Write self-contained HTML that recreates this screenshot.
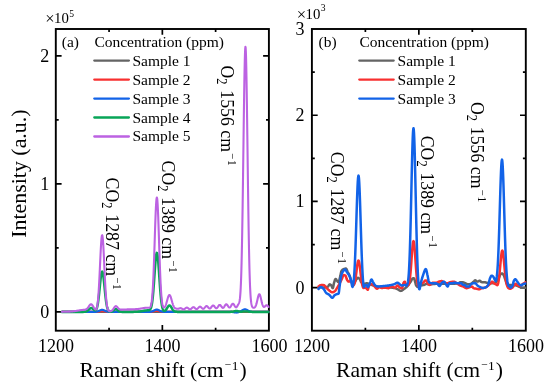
<!DOCTYPE html>
<html lang="en"><head><meta charset="utf-8"><title>Raman spectra</title>
<style>html,body{margin:0;padding:0;background:#fff}body{width:550px;height:387px;overflow:hidden}svg{display:block}</style>
</head><body>
<svg width="550" height="387" viewBox="0 0 550 387" font-family="'Liberation Serif',serif" fill="#000">
<rect width="550" height="387" fill="#fff"/>
<defs><clipPath id="ca"><rect x="55.8" y="29.0" width="213.70" height="301.7"/></clipPath><clipPath id="cb"><rect x="311.9" y="29.0" width="214.50" height="301.7"/></clipPath></defs>
<rect x="55.80" y="29.00" width="213.10" height="301.70" fill="none" stroke="#000" stroke-width="1.9"/>
<rect x="311.90" y="29.00" width="213.90" height="301.70" fill="none" stroke="#000" stroke-width="1.9"/>
<path d="M109.07,330.70v-2.9M109.07,29.00v2.9M162.35,330.70v-5.8M162.35,29.00v5.8M215.62,330.70v-2.9M215.62,29.00v2.9M55.80,311.90h5.8M268.90,311.90h-5.8M55.80,183.90h5.8M268.90,183.90h-5.8M55.80,55.90h5.8M268.90,55.90h-5.8M55.80,247.90h2.9M268.90,247.90h-2.9M55.80,119.90h2.9M268.90,119.90h-2.9" stroke="#000" stroke-width="1.7" fill="none"/>
<path d="M365.38,330.70v-2.9M365.38,29.00v2.9M418.85,330.70v-5.8M418.85,29.00v5.8M472.32,330.70v-2.9M472.32,29.00v2.9M311.90,287.65h5.8M525.80,287.65h-5.8M311.90,201.45h5.8M525.80,201.45h-5.8M311.90,115.25h5.8M525.80,115.25h-5.8M311.90,244.55h2.9M525.80,244.55h-2.9M311.90,158.35h2.9M525.80,158.35h-2.9M311.90,72.15h2.9M525.80,72.15h-2.9" stroke="#000" stroke-width="1.7" fill="none"/>
<g clip-path="url(#ca)" fill="none" stroke-linejoin="round" stroke-linecap="round">
<path d="M61.93,311.90 L62.14,311.90 L62.35,311.90 L62.57,311.90 L62.78,311.90 L62.99,311.90 L63.21,311.90 L63.42,311.90 L63.63,311.90 L63.84,311.90 L64.06,311.90 L64.27,311.90 L64.48,311.90 L64.70,311.90 L64.91,311.90 L65.12,311.90 L65.34,311.90 L65.55,311.90 L65.76,311.90 L65.98,311.90 L66.19,311.90 L66.40,311.90 L66.61,311.90 L66.83,311.90 L67.04,311.90 L67.25,311.90 L67.47,311.90 L67.68,311.90 L67.89,311.90 L68.11,311.90 L68.32,311.90 L68.53,311.90 L68.75,311.90 L68.96,311.90 L69.17,311.90 L69.39,311.90 L69.60,311.90 L69.81,311.90 L70.02,311.90 L70.24,311.90 L70.45,311.90 L70.66,311.90 L70.88,311.90 L71.09,311.90 L71.30,311.90 L71.52,311.90 L71.73,311.90 L71.94,311.90 L72.16,311.90 L72.37,311.90 L72.58,311.90 L72.79,311.90 L73.01,311.90 L73.22,311.90 L73.43,311.90 L73.65,311.90 L73.86,311.90 L74.07,311.90 L74.29,311.90 L74.50,311.90 L74.71,311.90 L74.93,311.90 L75.14,311.90 L75.35,311.90 L75.57,311.90 L75.78,311.90 L75.99,311.90 L76.20,311.90 L76.42,311.90 L76.63,311.90 L76.84,311.90 L77.06,311.90 L77.27,311.90 L77.48,311.90 L77.70,311.90 L77.91,311.90 L78.12,311.90 L78.34,311.90 L78.55,311.90 L78.76,311.90 L78.97,311.90 L79.19,311.90 L79.40,311.90 L79.61,311.90 L79.83,311.90 L80.04,311.90 L80.25,311.90 L80.47,311.90 L80.68,311.90 L80.89,311.90 L81.11,311.90 L81.32,311.90 L81.53,311.90 L81.74,311.90 L81.96,311.90 L82.17,311.90 L82.38,311.90 L82.60,311.90 L82.81,311.90 L83.02,311.90 L83.24,311.90 L83.45,311.90 L83.66,311.90 L83.88,311.90 L84.09,311.90 L84.30,311.90 L84.52,311.90 L84.73,311.90 L84.94,311.90 L85.15,311.90 L85.37,311.90 L85.58,311.90 L85.79,311.90 L86.01,311.90 L86.22,311.90 L86.43,311.90 L86.65,311.90 L86.86,311.90 L87.07,311.90 L87.29,311.90 L87.50,311.90 L87.71,311.90 L87.92,311.90 L88.14,311.90 L88.35,311.90 L88.56,311.90 L88.78,311.90 L88.99,311.90 L89.20,311.90 L89.42,311.90 L89.63,311.90 L89.84,311.90 L90.06,311.90 L90.27,311.90 L90.48,311.90 L90.70,311.90 L90.91,311.90 L91.12,311.90 L91.33,311.90 L91.55,311.90 L91.76,311.90 L91.97,311.90 L92.19,311.90 L92.40,311.90 L92.61,311.90 L92.83,311.90 L93.04,311.90 L93.25,311.90 L93.47,311.90 L93.68,311.90 L93.89,311.90 L94.10,311.90 L94.32,311.90 L94.53,311.90 L94.74,311.90 L94.96,311.90 L95.17,311.90 L95.38,311.90 L95.60,311.90 L95.81,311.90 L96.02,311.90 L96.24,311.90 L96.45,311.90 L96.66,311.90 L96.88,311.90 L97.09,311.90 L97.30,311.90 L97.51,311.90 L97.73,311.90 L97.94,311.90 L98.15,311.90 L98.37,311.90 L98.58,311.90 L98.79,311.90 L99.01,311.90 L99.22,311.90 L99.43,311.90 L99.65,311.90 L99.86,311.90 L100.07,311.90 L100.28,311.90 L100.50,311.90 L100.71,311.90 L100.92,311.90 L101.14,311.90 L101.35,311.90 L101.56,311.90 L101.78,311.90 L101.99,311.90 L102.20,311.90 L102.42,311.90 L102.63,311.90 L102.84,311.90 L103.05,311.90 L103.27,311.90 L103.48,311.90 L103.69,311.90 L103.91,311.90 L104.12,311.90 L104.33,311.90 L104.55,311.90 L104.76,311.90 L104.97,311.90 L105.19,311.90 L105.40,311.90 L105.61,311.90 L105.83,311.90 L106.04,311.90 L106.25,311.90 L106.46,311.90 L106.68,311.90 L106.89,311.90 L107.10,311.90 L107.32,311.90 L107.53,311.90 L107.74,311.90 L107.96,311.90 L108.17,311.90 L108.38,311.90 L108.60,311.90 L108.81,311.90 L109.02,311.90 L109.23,311.90 L109.45,311.90 L109.66,311.90 L109.87,311.90 L110.09,311.90 L110.30,311.90 L110.51,311.90 L110.73,311.90 L110.94,311.90 L111.15,311.90 L111.37,311.90 L111.58,311.90 L111.79,311.90 L112.01,311.90 L112.22,311.90 L112.43,311.90 L112.64,311.90 L112.86,311.90 L113.07,311.90 L113.28,311.90 L113.50,311.90 L113.71,311.90 L113.92,311.90 L114.14,311.90 L114.35,311.90 L114.56,311.90 L114.78,311.90 L114.99,311.90 L115.20,311.90 L115.41,311.90 L115.63,311.90 L115.84,311.90 L116.05,311.90 L116.27,311.90 L116.48,311.90 L116.69,311.90 L116.91,311.90 L117.12,311.90 L117.33,311.90 L117.55,311.90 L117.76,311.90 L117.97,311.90 L118.19,311.90 L118.40,311.90 L118.61,311.90 L118.82,311.90 L119.04,311.90 L119.25,311.90 L119.46,311.90 L119.68,311.90 L119.89,311.90 L120.10,311.90 L120.32,311.90 L120.53,311.90 L120.74,311.90 L120.96,311.90 L121.17,311.90 L121.38,311.90 L121.59,311.90 L121.81,311.90 L122.02,311.90 L122.23,311.90 L122.45,311.90 L122.66,311.90 L122.87,311.90 L123.09,311.90 L123.30,311.90 L123.51,311.90 L123.73,311.90 L123.94,311.90 L124.15,311.90 L124.36,311.90 L124.58,311.90 L124.79,311.90 L125.00,311.90 L125.22,311.90 L125.43,311.90 L125.64,311.90 L125.86,311.90 L126.07,311.90 L126.28,311.90 L126.50,311.90 L126.71,311.90 L126.92,311.90 L127.14,311.90 L127.35,311.90 L127.56,311.90 L127.77,311.90 L127.99,311.90 L128.20,311.90 L128.41,311.90 L128.63,311.90 L128.84,311.90 L129.05,311.90 L129.27,311.90 L129.48,311.90 L129.69,311.90 L129.91,311.90 L130.12,311.90 L130.33,311.90 L130.54,311.90 L130.76,311.90 L130.97,311.90 L131.18,311.90 L131.40,311.90 L131.61,311.90 L131.82,311.90 L132.04,311.90 L132.25,311.90 L132.46,311.90 L132.68,311.90 L132.89,311.90 L133.10,311.90 L133.32,311.90 L133.53,311.90 L133.74,311.90 L133.95,311.90 L134.17,311.90 L134.38,311.90 L134.59,311.90 L134.81,311.90 L135.02,311.90 L135.23,311.90 L135.45,311.90 L135.66,311.90 L135.87,311.90 L136.09,311.90 L136.30,311.90 L136.51,311.90 L136.72,311.90 L136.94,311.90 L137.15,311.90 L137.36,311.90 L137.58,311.90 L137.79,311.90 L138.00,311.90 L138.22,311.90 L138.43,311.90 L138.64,311.90 L138.86,311.90 L139.07,311.90 L139.28,311.90 L139.50,311.90 L139.71,311.90 L139.92,311.90 L140.13,311.90 L140.35,311.90 L140.56,311.90 L140.77,311.90 L140.99,311.90 L141.20,311.90 L141.41,311.90 L141.63,311.90 L141.84,311.90 L142.05,311.90 L142.27,311.90 L142.48,311.90 L142.69,311.90 L142.90,311.90 L143.12,311.90 L143.33,311.90 L143.54,311.90 L143.76,311.90 L143.97,311.90 L144.18,311.90 L144.40,311.90 L144.61,311.90 L144.82,311.90 L145.04,311.90 L145.25,311.90 L145.46,311.90 L145.67,311.90 L145.89,311.90 L146.10,311.90 L146.31,311.90 L146.53,311.90 L146.74,311.90 L146.95,311.90 L147.17,311.90 L147.38,311.90 L147.59,311.90 L147.81,311.90 L148.02,311.90 L148.23,311.90 L148.45,311.90 L148.66,311.90 L148.87,311.90 L149.08,311.90 L149.30,311.90 L149.51,311.90 L149.72,311.90 L149.94,311.90 L150.15,311.90 L150.36,311.90 L150.58,311.90 L150.79,311.90 L151.00,311.90 L151.22,311.90 L151.43,311.90 L151.64,311.90 L151.85,311.90 L152.07,311.90 L152.28,311.90 L152.49,311.90 L152.71,311.90 L152.92,311.90 L153.13,311.90 L153.35,311.90 L153.56,311.90 L153.77,311.90 L153.99,311.90 L154.20,311.90 L154.41,311.90 L154.63,311.90 L154.84,311.90 L155.05,311.90 L155.26,311.90 L155.48,311.90 L155.69,311.90 L155.90,311.90 L156.12,311.90 L156.33,311.90 L156.54,311.90 L156.76,311.90 L156.97,311.90 L157.18,311.90 L157.40,311.90 L157.61,311.90 L157.82,311.90 L158.03,311.90 L158.25,311.90 L158.46,311.90 L158.67,311.90 L158.89,311.90 L159.10,311.90 L159.31,311.90 L159.53,311.90 L159.74,311.90 L159.95,311.90 L160.17,311.90 L160.38,311.90 L160.59,311.90 L160.81,311.90 L161.02,311.90 L161.23,311.90 L161.44,311.90 L161.66,311.90 L161.87,311.90 L162.08,311.90 L162.30,311.90 L162.51,311.90 L162.72,311.90 L162.94,311.90 L163.15,311.90 L163.36,311.90 L163.58,311.90 L163.79,311.90 L164.00,311.90 L164.21,311.90 L164.43,311.90 L164.64,311.90 L164.85,311.90 L165.07,311.90 L165.28,311.90 L165.49,311.90 L165.71,311.90 L165.92,311.90 L166.13,311.90 L166.35,311.90 L166.56,311.90 L166.77,311.90 L166.98,311.90 L167.20,311.90 L167.41,311.90 L167.62,311.90 L167.84,311.90 L168.05,311.90 L168.26,311.90 L168.48,311.90 L168.69,311.90 L168.90,311.90 L169.12,311.90 L169.33,311.90 L169.54,311.90 L169.76,311.90 L169.97,311.90 L170.18,311.90 L170.39,311.90 L170.61,311.90 L170.82,311.90 L171.03,311.90 L171.25,311.90 L171.46,311.90 L171.67,311.90 L171.89,311.90 L172.10,311.90 L172.31,311.90 L172.53,311.90 L172.74,311.90 L172.95,311.90 L173.16,311.90 L173.38,311.90 L173.59,311.90 L173.80,311.90 L174.02,311.90 L174.23,311.90 L174.44,311.90 L174.66,311.90 L174.87,311.90 L175.08,311.90 L175.30,311.90 L175.51,311.90 L175.72,311.90 L175.94,311.90 L176.15,311.90 L176.36,311.90 L176.57,311.90 L176.79,311.90 L177.00,311.90 L177.21,311.90 L177.43,311.90 L177.64,311.90 L177.85,311.90 L178.07,311.90 L178.28,311.90 L178.49,311.90 L178.71,311.90 L178.92,311.90 L179.13,311.90 L179.34,311.90 L179.56,311.90 L179.77,311.90 L179.98,311.90 L180.20,311.90 L180.41,311.90 L180.62,311.90 L180.84,311.90 L181.05,311.90 L181.26,311.90 L181.48,311.90 L181.69,311.90 L181.90,311.90 L182.12,311.90 L182.33,311.90 L182.54,311.90 L182.75,311.90 L182.97,311.90 L183.18,311.90 L183.39,311.90 L183.61,311.90 L183.82,311.90 L184.03,311.90 L184.25,311.90 L184.46,311.90 L184.67,311.90 L184.89,311.90 L185.10,311.90 L185.31,311.90 L185.52,311.90 L185.74,311.90 L185.95,311.90 L186.16,311.90 L186.38,311.90 L186.59,311.90 L186.80,311.90 L187.02,311.90 L187.23,311.90 L187.44,311.90 L187.66,311.90 L187.87,311.90 L188.08,311.90 L188.29,311.90 L188.51,311.90 L188.72,311.90 L188.93,311.90 L189.15,311.90 L189.36,311.90 L189.57,311.90 L189.79,311.90 L190.00,311.90 L190.21,311.90 L190.43,311.90 L190.64,311.90 L190.85,311.90 L191.07,311.90 L191.28,311.90 L191.49,311.90 L191.70,311.90 L191.92,311.90 L192.13,311.90 L192.34,311.90 L192.56,311.90 L192.77,311.90 L192.98,311.90 L193.20,311.90 L193.41,311.90 L193.62,311.90 L193.84,311.90 L194.05,311.90 L194.26,311.90 L194.47,311.90 L194.69,311.90 L194.90,311.90 L195.11,311.90 L195.33,311.90 L195.54,311.90 L195.75,311.90 L195.97,311.90 L196.18,311.90 L196.39,311.90 L196.61,311.90 L196.82,311.90 L197.03,311.90 L197.25,311.90 L197.46,311.90 L197.67,311.90 L197.88,311.90 L198.10,311.90 L198.31,311.90 L198.52,311.90 L198.74,311.90 L198.95,311.90 L199.16,311.90 L199.38,311.90 L199.59,311.90 L199.80,311.90 L200.02,311.90 L200.23,311.90 L200.44,311.90 L200.65,311.90 L200.87,311.90 L201.08,311.90 L201.29,311.90 L201.51,311.90 L201.72,311.90 L201.93,311.90 L202.15,311.90 L202.36,311.90 L202.57,311.90 L202.79,311.90 L203.00,311.90 L203.21,311.90 L203.43,311.90 L203.64,311.90 L203.85,311.90 L204.06,311.90 L204.28,311.90 L204.49,311.90 L204.70,311.90 L204.92,311.90 L205.13,311.90 L205.34,311.90 L205.56,311.90 L205.77,311.90 L205.98,311.90 L206.20,311.90 L206.41,311.90 L206.62,311.90 L206.83,311.90 L207.05,311.90 L207.26,311.90 L207.47,311.90 L207.69,311.90 L207.90,311.90 L208.11,311.90 L208.33,311.90 L208.54,311.90 L208.75,311.90 L208.97,311.90 L209.18,311.90 L209.39,311.90 L209.60,311.90 L209.82,311.90 L210.03,311.90 L210.24,311.90 L210.46,311.90 L210.67,311.90 L210.88,311.90 L211.10,311.90 L211.31,311.90 L211.52,311.90 L211.74,311.90 L211.95,311.90 L212.16,311.90 L212.38,311.90 L212.59,311.90 L212.80,311.90 L213.01,311.90 L213.23,311.90 L213.44,311.90 L213.65,311.90 L213.87,311.90 L214.08,311.90 L214.29,311.90 L214.51,311.90 L214.72,311.90 L214.93,311.90 L215.15,311.90 L215.36,311.90 L215.57,311.90 L215.78,311.90 L216.00,311.90 L216.21,311.90 L216.42,311.90 L216.64,311.90 L216.85,311.90 L217.06,311.90 L217.28,311.90 L217.49,311.90 L217.70,311.90 L217.92,311.90 L218.13,311.90 L218.34,311.90 L218.56,311.90 L218.77,311.90 L218.98,311.90 L219.19,311.90 L219.41,311.90 L219.62,311.90 L219.83,311.90 L220.05,311.90 L220.26,311.90 L220.47,311.90 L220.69,311.90 L220.90,311.90 L221.11,311.90 L221.33,311.90 L221.54,311.90 L221.75,311.90 L221.96,311.90 L222.18,311.90 L222.39,311.90 L222.60,311.90 L222.82,311.90 L223.03,311.90 L223.24,311.90 L223.46,311.90 L223.67,311.90 L223.88,311.90 L224.10,311.90 L224.31,311.90 L224.52,311.90 L224.74,311.90 L224.95,311.90 L225.16,311.90 L225.37,311.90 L225.59,311.90 L225.80,311.90 L226.01,311.90 L226.23,311.90 L226.44,311.90 L226.65,311.90 L226.87,311.90 L227.08,311.90 L227.29,311.90 L227.51,311.90 L227.72,311.90 L227.93,311.90 L228.14,311.90 L228.36,311.90 L228.57,311.90 L228.78,311.90 L229.00,311.90 L229.21,311.90 L229.42,311.90 L229.64,311.90 L229.85,311.90 L230.06,311.90 L230.28,311.90 L230.49,311.90 L230.70,311.90 L230.91,311.90 L231.13,311.90 L231.34,311.90 L231.55,311.90 L231.77,311.90 L231.98,311.90 L232.19,311.90 L232.41,311.90 L232.62,311.90 L232.83,311.90 L233.05,311.90 L233.26,311.90 L233.47,311.90 L233.69,311.90 L233.90,311.90 L234.11,311.90 L234.32,311.90 L234.54,311.90 L234.75,311.90 L234.96,311.90 L235.18,311.90 L235.39,311.90 L235.60,311.90 L235.82,311.90 L236.03,311.90 L236.24,311.90 L236.46,311.90 L236.67,311.90 L236.88,311.90 L237.09,311.90 L237.31,311.90 L237.52,311.90 L237.73,311.90 L237.95,311.90 L238.16,311.90 L238.37,311.90 L238.59,311.90 L238.80,311.90 L239.01,311.90 L239.23,311.90 L239.44,311.90 L239.65,311.90 L239.87,311.90 L240.08,311.90 L240.29,311.90 L240.50,311.90 L240.72,311.90 L240.93,311.90 L241.14,311.90 L241.36,311.90 L241.57,311.90 L241.78,311.90 L242.00,311.90 L242.21,311.90 L242.42,311.90 L242.64,311.90 L242.85,311.90 L243.06,311.90 L243.27,311.90 L243.49,311.90 L243.70,311.90 L243.91,311.90 L244.13,311.90 L244.34,311.90 L244.55,311.90 L244.77,311.90 L244.98,311.90 L245.19,311.90 L245.41,311.90 L245.62,311.90 L245.83,311.90 L246.05,311.90 L246.26,311.90 L246.47,311.90 L246.68,311.90 L246.90,311.90 L247.11,311.90 L247.32,311.90 L247.54,311.90 L247.75,311.90 L247.96,311.90 L248.18,311.90 L248.39,311.90 L248.60,311.90 L248.82,311.90 L249.03,311.90 L249.24,311.90 L249.45,311.90 L249.67,311.90 L249.88,311.90 L250.09,311.90 L250.31,311.90 L250.52,311.90 L250.73,311.90 L250.95,311.90 L251.16,311.90 L251.37,311.90 L251.59,311.90 L251.80,311.90 L252.01,311.90 L252.22,311.90 L252.44,311.90 L252.65,311.90 L252.86,311.90 L253.08,311.90 L253.29,311.90 L253.50,311.90 L253.72,311.90 L253.93,311.90 L254.14,311.90 L254.36,311.90 L254.57,311.90 L254.78,311.90 L255.00,311.90 L255.21,311.90 L255.42,311.90 L255.63,311.90 L255.85,311.90 L256.06,311.90 L256.27,311.90 L256.49,311.90 L256.70,311.90 L256.91,311.90 L257.13,311.90 L257.34,311.90 L257.55,311.90 L257.77,311.90 L257.98,311.90 L258.19,311.90 L258.40,311.90 L258.62,311.90 L258.83,311.90 L259.04,311.90 L259.26,311.90 L259.47,311.90 L259.68,311.90 L259.90,311.90 L260.11,311.90 L260.32,311.90 L260.54,311.90 L260.75,311.90 L260.96,311.90 L261.18,311.90 L261.39,311.90 L261.60,311.90 L261.81,311.90 L262.03,311.90 L262.24,311.90 L262.45,311.90 L262.67,311.90 L262.88,311.90 L263.09,311.90 L263.31,311.90 L263.52,311.90 L263.73,311.90 L263.95,311.90 L264.16,311.90 L264.37,311.90 L264.58,311.90 L264.80,311.90 L265.01,311.90 L265.22,311.90 L265.44,311.90 L265.65,311.90 L265.86,311.90 L266.08,311.90 L266.29,311.90 L266.50,311.90 L266.72,311.90 L266.93,311.90 L267.14,311.90 L267.36,311.90 L267.57,311.90 L267.78,311.90 L267.99,311.90 L268.21,311.90 L268.42,311.90 L268.63,311.90 L268.85,311.90" stroke="#646464" stroke-width="2.2"/>
<path d="M61.93,311.90 L62.14,311.90 L62.35,311.90 L62.57,311.90 L62.78,311.90 L62.99,311.90 L63.21,311.90 L63.42,311.90 L63.63,311.90 L63.84,311.90 L64.06,311.90 L64.27,311.90 L64.48,311.90 L64.70,311.90 L64.91,311.90 L65.12,311.90 L65.34,311.90 L65.55,311.90 L65.76,311.90 L65.98,311.90 L66.19,311.90 L66.40,311.90 L66.61,311.90 L66.83,311.90 L67.04,311.90 L67.25,311.90 L67.47,311.90 L67.68,311.90 L67.89,311.90 L68.11,311.90 L68.32,311.90 L68.53,311.90 L68.75,311.90 L68.96,311.90 L69.17,311.90 L69.39,311.90 L69.60,311.90 L69.81,311.90 L70.02,311.90 L70.24,311.90 L70.45,311.90 L70.66,311.90 L70.88,311.90 L71.09,311.90 L71.30,311.90 L71.52,311.90 L71.73,311.90 L71.94,311.90 L72.16,311.90 L72.37,311.90 L72.58,311.90 L72.79,311.90 L73.01,311.90 L73.22,311.90 L73.43,311.90 L73.65,311.90 L73.86,311.90 L74.07,311.90 L74.29,311.90 L74.50,311.90 L74.71,311.90 L74.93,311.90 L75.14,311.90 L75.35,311.90 L75.57,311.90 L75.78,311.90 L75.99,311.90 L76.20,311.90 L76.42,311.90 L76.63,311.90 L76.84,311.90 L77.06,311.90 L77.27,311.90 L77.48,311.90 L77.70,311.90 L77.91,311.90 L78.12,311.90 L78.34,311.90 L78.55,311.90 L78.76,311.90 L78.97,311.90 L79.19,311.90 L79.40,311.90 L79.61,311.90 L79.83,311.90 L80.04,311.90 L80.25,311.90 L80.47,311.90 L80.68,311.90 L80.89,311.90 L81.11,311.90 L81.32,311.90 L81.53,311.90 L81.74,311.90 L81.96,311.90 L82.17,311.90 L82.38,311.90 L82.60,311.90 L82.81,311.90 L83.02,311.90 L83.24,311.90 L83.45,311.90 L83.66,311.90 L83.88,311.90 L84.09,311.90 L84.30,311.90 L84.52,311.90 L84.73,311.90 L84.94,311.90 L85.15,311.90 L85.37,311.90 L85.58,311.90 L85.79,311.90 L86.01,311.90 L86.22,311.90 L86.43,311.90 L86.65,311.90 L86.86,311.90 L87.07,311.90 L87.29,311.90 L87.50,311.90 L87.71,311.90 L87.92,311.90 L88.14,311.90 L88.35,311.90 L88.56,311.90 L88.78,311.90 L88.99,311.90 L89.20,311.90 L89.42,311.90 L89.63,311.90 L89.84,311.90 L90.06,311.90 L90.27,311.90 L90.48,311.90 L90.70,311.90 L90.91,311.90 L91.12,311.90 L91.33,311.90 L91.55,311.90 L91.76,311.90 L91.97,311.90 L92.19,311.90 L92.40,311.90 L92.61,311.90 L92.83,311.90 L93.04,311.90 L93.25,311.90 L93.47,311.90 L93.68,311.90 L93.89,311.89 L94.10,311.89 L94.32,311.89 L94.53,311.89 L94.74,311.88 L94.96,311.88 L95.17,311.88 L95.38,311.87 L95.60,311.86 L95.81,311.85 L96.02,311.85 L96.24,311.83 L96.45,311.82 L96.66,311.81 L96.88,311.79 L97.09,311.77 L97.30,311.75 L97.51,311.73 L97.73,311.71 L97.94,311.68 L98.15,311.65 L98.37,311.62 L98.58,311.59 L98.79,311.55 L99.01,311.52 L99.22,311.48 L99.43,311.44 L99.65,311.41 L99.86,311.37 L100.07,311.33 L100.28,311.30 L100.50,311.27 L100.71,311.24 L100.92,311.21 L101.14,311.19 L101.35,311.17 L101.56,311.15 L101.78,311.14 L101.99,311.13 L102.20,311.13 L102.42,311.14 L102.63,311.14 L102.84,311.16 L103.05,311.18 L103.27,311.20 L103.48,311.22 L103.69,311.25 L103.91,311.28 L104.12,311.32 L104.33,311.35 L104.55,311.39 L104.76,311.42 L104.97,311.46 L105.19,311.50 L105.40,311.54 L105.61,311.57 L105.83,311.60 L106.04,311.64 L106.25,311.67 L106.46,311.69 L106.68,311.72 L106.89,311.74 L107.10,311.76 L107.32,311.78 L107.53,311.80 L107.74,311.82 L107.96,311.83 L108.17,311.84 L108.38,311.85 L108.60,311.86 L108.81,311.87 L109.02,311.87 L109.23,311.88 L109.45,311.88 L109.66,311.89 L109.87,311.89 L110.09,311.89 L110.30,311.89 L110.51,311.89 L110.73,311.90 L110.94,311.90 L111.15,311.90 L111.37,311.90 L111.58,311.90 L111.79,311.90 L112.01,311.90 L112.22,311.90 L112.43,311.90 L112.64,311.90 L112.86,311.90 L113.07,311.90 L113.28,311.90 L113.50,311.90 L113.71,311.90 L113.92,311.90 L114.14,311.90 L114.35,311.90 L114.56,311.90 L114.78,311.90 L114.99,311.90 L115.20,311.90 L115.41,311.90 L115.63,311.90 L115.84,311.90 L116.05,311.90 L116.27,311.90 L116.48,311.90 L116.69,311.90 L116.91,311.90 L117.12,311.90 L117.33,311.90 L117.55,311.90 L117.76,311.90 L117.97,311.90 L118.19,311.90 L118.40,311.90 L118.61,311.90 L118.82,311.90 L119.04,311.90 L119.25,311.90 L119.46,311.90 L119.68,311.90 L119.89,311.90 L120.10,311.90 L120.32,311.90 L120.53,311.90 L120.74,311.90 L120.96,311.90 L121.17,311.90 L121.38,311.90 L121.59,311.90 L121.81,311.90 L122.02,311.90 L122.23,311.90 L122.45,311.90 L122.66,311.90 L122.87,311.90 L123.09,311.90 L123.30,311.90 L123.51,311.90 L123.73,311.90 L123.94,311.90 L124.15,311.90 L124.36,311.90 L124.58,311.90 L124.79,311.90 L125.00,311.90 L125.22,311.90 L125.43,311.90 L125.64,311.90 L125.86,311.90 L126.07,311.90 L126.28,311.90 L126.50,311.90 L126.71,311.90 L126.92,311.90 L127.14,311.90 L127.35,311.90 L127.56,311.90 L127.77,311.90 L127.99,311.90 L128.20,311.90 L128.41,311.90 L128.63,311.90 L128.84,311.90 L129.05,311.90 L129.27,311.90 L129.48,311.90 L129.69,311.90 L129.91,311.90 L130.12,311.90 L130.33,311.90 L130.54,311.90 L130.76,311.90 L130.97,311.90 L131.18,311.90 L131.40,311.90 L131.61,311.90 L131.82,311.90 L132.04,311.90 L132.25,311.90 L132.46,311.90 L132.68,311.90 L132.89,311.90 L133.10,311.90 L133.32,311.90 L133.53,311.90 L133.74,311.90 L133.95,311.90 L134.17,311.90 L134.38,311.90 L134.59,311.90 L134.81,311.90 L135.02,311.90 L135.23,311.90 L135.45,311.90 L135.66,311.90 L135.87,311.90 L136.09,311.90 L136.30,311.90 L136.51,311.90 L136.72,311.90 L136.94,311.90 L137.15,311.90 L137.36,311.90 L137.58,311.90 L137.79,311.90 L138.00,311.90 L138.22,311.90 L138.43,311.90 L138.64,311.90 L138.86,311.90 L139.07,311.90 L139.28,311.90 L139.50,311.90 L139.71,311.90 L139.92,311.90 L140.13,311.90 L140.35,311.90 L140.56,311.90 L140.77,311.90 L140.99,311.90 L141.20,311.90 L141.41,311.90 L141.63,311.90 L141.84,311.90 L142.05,311.90 L142.27,311.90 L142.48,311.90 L142.69,311.90 L142.90,311.90 L143.12,311.90 L143.33,311.90 L143.54,311.90 L143.76,311.90 L143.97,311.90 L144.18,311.90 L144.40,311.90 L144.61,311.90 L144.82,311.90 L145.04,311.90 L145.25,311.90 L145.46,311.90 L145.67,311.90 L145.89,311.90 L146.10,311.90 L146.31,311.90 L146.53,311.90 L146.74,311.90 L146.95,311.90 L147.17,311.90 L147.38,311.90 L147.59,311.90 L147.81,311.90 L148.02,311.90 L148.23,311.89 L148.45,311.89 L148.66,311.89 L148.87,311.89 L149.08,311.88 L149.30,311.88 L149.51,311.87 L149.72,311.87 L149.94,311.86 L150.15,311.85 L150.36,311.84 L150.58,311.83 L150.79,311.82 L151.00,311.80 L151.22,311.78 L151.43,311.76 L151.64,311.74 L151.85,311.71 L152.07,311.68 L152.28,311.65 L152.49,311.62 L152.71,311.58 L152.92,311.54 L153.13,311.49 L153.35,311.45 L153.56,311.40 L153.77,311.35 L153.99,311.30 L154.20,311.25 L154.41,311.20 L154.63,311.16 L154.84,311.11 L155.05,311.07 L155.26,311.02 L155.48,310.99 L155.69,310.95 L155.90,310.93 L156.12,310.91 L156.33,310.89 L156.54,310.88 L156.76,310.88 L156.97,310.88 L157.18,310.89 L157.40,310.91 L157.61,310.93 L157.82,310.95 L158.03,310.99 L158.25,311.02 L158.46,311.07 L158.67,311.11 L158.89,311.16 L159.10,311.20 L159.31,311.25 L159.53,311.30 L159.74,311.35 L159.95,311.40 L160.17,311.45 L160.38,311.49 L160.59,311.54 L160.81,311.58 L161.02,311.62 L161.23,311.65 L161.44,311.68 L161.66,311.71 L161.87,311.74 L162.08,311.76 L162.30,311.78 L162.51,311.80 L162.72,311.82 L162.94,311.83 L163.15,311.84 L163.36,311.85 L163.58,311.86 L163.79,311.87 L164.00,311.87 L164.21,311.88 L164.43,311.88 L164.64,311.89 L164.85,311.89 L165.07,311.89 L165.28,311.89 L165.49,311.90 L165.71,311.90 L165.92,311.90 L166.13,311.90 L166.35,311.90 L166.56,311.90 L166.77,311.90 L166.98,311.90 L167.20,311.90 L167.41,311.90 L167.62,311.90 L167.84,311.90 L168.05,311.90 L168.26,311.90 L168.48,311.90 L168.69,311.90 L168.90,311.90 L169.12,311.90 L169.33,311.90 L169.54,311.90 L169.76,311.90 L169.97,311.90 L170.18,311.90 L170.39,311.90 L170.61,311.90 L170.82,311.90 L171.03,311.90 L171.25,311.90 L171.46,311.90 L171.67,311.90 L171.89,311.90 L172.10,311.90 L172.31,311.90 L172.53,311.90 L172.74,311.90 L172.95,311.90 L173.16,311.90 L173.38,311.90 L173.59,311.90 L173.80,311.90 L174.02,311.90 L174.23,311.90 L174.44,311.90 L174.66,311.90 L174.87,311.90 L175.08,311.90 L175.30,311.90 L175.51,311.90 L175.72,311.90 L175.94,311.90 L176.15,311.90 L176.36,311.90 L176.57,311.90 L176.79,311.90 L177.00,311.90 L177.21,311.90 L177.43,311.90 L177.64,311.90 L177.85,311.90 L178.07,311.90 L178.28,311.90 L178.49,311.90 L178.71,311.90 L178.92,311.90 L179.13,311.90 L179.34,311.90 L179.56,311.90 L179.77,311.90 L179.98,311.90 L180.20,311.90 L180.41,311.90 L180.62,311.90 L180.84,311.90 L181.05,311.90 L181.26,311.90 L181.48,311.90 L181.69,311.90 L181.90,311.90 L182.12,311.90 L182.33,311.90 L182.54,311.90 L182.75,311.90 L182.97,311.90 L183.18,311.90 L183.39,311.90 L183.61,311.90 L183.82,311.90 L184.03,311.90 L184.25,311.90 L184.46,311.90 L184.67,311.90 L184.89,311.90 L185.10,311.90 L185.31,311.90 L185.52,311.90 L185.74,311.90 L185.95,311.90 L186.16,311.90 L186.38,311.90 L186.59,311.90 L186.80,311.90 L187.02,311.90 L187.23,311.90 L187.44,311.90 L187.66,311.90 L187.87,311.90 L188.08,311.90 L188.29,311.90 L188.51,311.90 L188.72,311.90 L188.93,311.90 L189.15,311.90 L189.36,311.90 L189.57,311.90 L189.79,311.90 L190.00,311.90 L190.21,311.90 L190.43,311.90 L190.64,311.90 L190.85,311.90 L191.07,311.90 L191.28,311.90 L191.49,311.90 L191.70,311.90 L191.92,311.90 L192.13,311.90 L192.34,311.90 L192.56,311.90 L192.77,311.90 L192.98,311.90 L193.20,311.90 L193.41,311.90 L193.62,311.90 L193.84,311.90 L194.05,311.90 L194.26,311.90 L194.47,311.90 L194.69,311.90 L194.90,311.90 L195.11,311.90 L195.33,311.90 L195.54,311.90 L195.75,311.90 L195.97,311.90 L196.18,311.90 L196.39,311.90 L196.61,311.90 L196.82,311.90 L197.03,311.90 L197.25,311.90 L197.46,311.90 L197.67,311.90 L197.88,311.90 L198.10,311.90 L198.31,311.90 L198.52,311.90 L198.74,311.90 L198.95,311.90 L199.16,311.90 L199.38,311.90 L199.59,311.90 L199.80,311.90 L200.02,311.90 L200.23,311.90 L200.44,311.90 L200.65,311.90 L200.87,311.90 L201.08,311.90 L201.29,311.90 L201.51,311.90 L201.72,311.90 L201.93,311.90 L202.15,311.90 L202.36,311.90 L202.57,311.90 L202.79,311.90 L203.00,311.90 L203.21,311.90 L203.43,311.90 L203.64,311.90 L203.85,311.90 L204.06,311.90 L204.28,311.90 L204.49,311.90 L204.70,311.90 L204.92,311.90 L205.13,311.90 L205.34,311.90 L205.56,311.90 L205.77,311.90 L205.98,311.90 L206.20,311.90 L206.41,311.90 L206.62,311.90 L206.83,311.90 L207.05,311.90 L207.26,311.90 L207.47,311.90 L207.69,311.90 L207.90,311.90 L208.11,311.90 L208.33,311.90 L208.54,311.90 L208.75,311.90 L208.97,311.90 L209.18,311.90 L209.39,311.90 L209.60,311.90 L209.82,311.90 L210.03,311.90 L210.24,311.90 L210.46,311.90 L210.67,311.90 L210.88,311.90 L211.10,311.90 L211.31,311.90 L211.52,311.90 L211.74,311.90 L211.95,311.90 L212.16,311.90 L212.38,311.90 L212.59,311.90 L212.80,311.90 L213.01,311.90 L213.23,311.90 L213.44,311.90 L213.65,311.90 L213.87,311.90 L214.08,311.90 L214.29,311.90 L214.51,311.90 L214.72,311.90 L214.93,311.90 L215.15,311.90 L215.36,311.90 L215.57,311.90 L215.78,311.90 L216.00,311.90 L216.21,311.90 L216.42,311.90 L216.64,311.90 L216.85,311.90 L217.06,311.90 L217.28,311.90 L217.49,311.90 L217.70,311.90 L217.92,311.90 L218.13,311.90 L218.34,311.90 L218.56,311.90 L218.77,311.90 L218.98,311.90 L219.19,311.90 L219.41,311.90 L219.62,311.90 L219.83,311.90 L220.05,311.90 L220.26,311.90 L220.47,311.90 L220.69,311.90 L220.90,311.90 L221.11,311.90 L221.33,311.90 L221.54,311.90 L221.75,311.90 L221.96,311.90 L222.18,311.90 L222.39,311.90 L222.60,311.90 L222.82,311.90 L223.03,311.90 L223.24,311.90 L223.46,311.90 L223.67,311.90 L223.88,311.90 L224.10,311.90 L224.31,311.90 L224.52,311.90 L224.74,311.90 L224.95,311.90 L225.16,311.90 L225.37,311.90 L225.59,311.90 L225.80,311.90 L226.01,311.90 L226.23,311.90 L226.44,311.90 L226.65,311.90 L226.87,311.90 L227.08,311.90 L227.29,311.90 L227.51,311.90 L227.72,311.90 L227.93,311.90 L228.14,311.90 L228.36,311.90 L228.57,311.90 L228.78,311.90 L229.00,311.90 L229.21,311.90 L229.42,311.90 L229.64,311.90 L229.85,311.90 L230.06,311.90 L230.28,311.90 L230.49,311.90 L230.70,311.90 L230.91,311.90 L231.13,311.90 L231.34,311.90 L231.55,311.90 L231.77,311.90 L231.98,311.90 L232.19,311.90 L232.41,311.90 L232.62,311.90 L232.83,311.90 L233.05,311.90 L233.26,311.90 L233.47,311.90 L233.69,311.90 L233.90,311.90 L234.11,311.90 L234.32,311.90 L234.54,311.90 L234.75,311.90 L234.96,311.90 L235.18,311.90 L235.39,311.90 L235.60,311.90 L235.82,311.90 L236.03,311.90 L236.24,311.90 L236.46,311.90 L236.67,311.90 L236.88,311.90 L237.09,311.90 L237.31,311.90 L237.52,311.90 L237.73,311.90 L237.95,311.90 L238.16,311.90 L238.37,311.90 L238.59,311.90 L238.80,311.90 L239.01,311.90 L239.23,311.90 L239.44,311.90 L239.65,311.90 L239.87,311.90 L240.08,311.90 L240.29,311.90 L240.50,311.90 L240.72,311.90 L240.93,311.90 L241.14,311.90 L241.36,311.90 L241.57,311.90 L241.78,311.90 L242.00,311.90 L242.21,311.90 L242.42,311.90 L242.64,311.90 L242.85,311.90 L243.06,311.90 L243.27,311.90 L243.49,311.90 L243.70,311.90 L243.91,311.90 L244.13,311.90 L244.34,311.90 L244.55,311.90 L244.77,311.90 L244.98,311.90 L245.19,311.90 L245.41,311.90 L245.62,311.90 L245.83,311.90 L246.05,311.90 L246.26,311.90 L246.47,311.90 L246.68,311.90 L246.90,311.90 L247.11,311.90 L247.32,311.90 L247.54,311.90 L247.75,311.90 L247.96,311.90 L248.18,311.90 L248.39,311.90 L248.60,311.90 L248.82,311.90 L249.03,311.90 L249.24,311.90 L249.45,311.90 L249.67,311.90 L249.88,311.90 L250.09,311.90 L250.31,311.90 L250.52,311.90 L250.73,311.90 L250.95,311.90 L251.16,311.90 L251.37,311.90 L251.59,311.90 L251.80,311.90 L252.01,311.90 L252.22,311.90 L252.44,311.90 L252.65,311.90 L252.86,311.90 L253.08,311.90 L253.29,311.90 L253.50,311.90 L253.72,311.90 L253.93,311.90 L254.14,311.90 L254.36,311.90 L254.57,311.90 L254.78,311.90 L255.00,311.90 L255.21,311.90 L255.42,311.90 L255.63,311.90 L255.85,311.90 L256.06,311.90 L256.27,311.90 L256.49,311.90 L256.70,311.90 L256.91,311.90 L257.13,311.90 L257.34,311.90 L257.55,311.90 L257.77,311.90 L257.98,311.90 L258.19,311.90 L258.40,311.90 L258.62,311.90 L258.83,311.90 L259.04,311.90 L259.26,311.90 L259.47,311.90 L259.68,311.90 L259.90,311.90 L260.11,311.90 L260.32,311.90 L260.54,311.90 L260.75,311.90 L260.96,311.90 L261.18,311.90 L261.39,311.90 L261.60,311.90 L261.81,311.90 L262.03,311.90 L262.24,311.90 L262.45,311.90 L262.67,311.90 L262.88,311.90 L263.09,311.90 L263.31,311.90 L263.52,311.90 L263.73,311.90 L263.95,311.90 L264.16,311.90 L264.37,311.90 L264.58,311.90 L264.80,311.90 L265.01,311.90 L265.22,311.90 L265.44,311.90 L265.65,311.90 L265.86,311.90 L266.08,311.90 L266.29,311.90 L266.50,311.90 L266.72,311.90 L266.93,311.90 L267.14,311.90 L267.36,311.90 L267.57,311.90 L267.78,311.90 L267.99,311.90 L268.21,311.90 L268.42,311.90 L268.63,311.90 L268.85,311.90" stroke="#f83030" stroke-width="2.2"/>
<path d="M61.93,311.90 L62.14,311.90 L62.35,311.90 L62.57,311.90 L62.78,311.90 L62.99,311.90 L63.21,311.90 L63.42,311.90 L63.63,311.90 L63.84,311.90 L64.06,311.90 L64.27,311.90 L64.48,311.90 L64.70,311.90 L64.91,311.90 L65.12,311.90 L65.34,311.90 L65.55,311.90 L65.76,311.90 L65.98,311.90 L66.19,311.90 L66.40,311.90 L66.61,311.90 L66.83,311.90 L67.04,311.90 L67.25,311.90 L67.47,311.90 L67.68,311.90 L67.89,311.90 L68.11,311.90 L68.32,311.90 L68.53,311.90 L68.75,311.90 L68.96,311.90 L69.17,311.90 L69.39,311.90 L69.60,311.90 L69.81,311.90 L70.02,311.90 L70.24,311.90 L70.45,311.90 L70.66,311.90 L70.88,311.90 L71.09,311.90 L71.30,311.90 L71.52,311.90 L71.73,311.90 L71.94,311.90 L72.16,311.90 L72.37,311.90 L72.58,311.90 L72.79,311.90 L73.01,311.90 L73.22,311.90 L73.43,311.90 L73.65,311.90 L73.86,311.90 L74.07,311.90 L74.29,311.90 L74.50,311.90 L74.71,311.90 L74.93,311.90 L75.14,311.90 L75.35,311.90 L75.57,311.90 L75.78,311.90 L75.99,311.90 L76.20,311.90 L76.42,311.90 L76.63,311.90 L76.84,311.90 L77.06,311.90 L77.27,311.90 L77.48,311.90 L77.70,311.90 L77.91,311.90 L78.12,311.90 L78.34,311.90 L78.55,311.90 L78.76,311.90 L78.97,311.90 L79.19,311.90 L79.40,311.90 L79.61,311.90 L79.83,311.90 L80.04,311.90 L80.25,311.90 L80.47,311.90 L80.68,311.90 L80.89,311.90 L81.11,311.90 L81.32,311.90 L81.53,311.90 L81.74,311.90 L81.96,311.90 L82.17,311.90 L82.38,311.90 L82.60,311.90 L82.81,311.90 L83.02,311.90 L83.24,311.90 L83.45,311.90 L83.66,311.90 L83.88,311.90 L84.09,311.90 L84.30,311.90 L84.52,311.90 L84.73,311.90 L84.94,311.90 L85.15,311.90 L85.37,311.90 L85.58,311.90 L85.79,311.90 L86.01,311.90 L86.22,311.90 L86.43,311.90 L86.65,311.90 L86.86,311.90 L87.07,311.90 L87.29,311.90 L87.50,311.90 L87.71,311.90 L87.92,311.90 L88.14,311.90 L88.35,311.90 L88.56,311.90 L88.78,311.90 L88.99,311.90 L89.20,311.90 L89.42,311.90 L89.63,311.90 L89.84,311.90 L90.06,311.90 L90.27,311.90 L90.48,311.90 L90.70,311.90 L90.91,311.90 L91.12,311.90 L91.33,311.90 L91.55,311.90 L91.76,311.90 L91.97,311.90 L92.19,311.90 L92.40,311.90 L92.61,311.90 L92.83,311.90 L93.04,311.89 L93.25,311.89 L93.47,311.89 L93.68,311.89 L93.89,311.88 L94.10,311.88 L94.32,311.87 L94.53,311.87 L94.74,311.86 L94.96,311.85 L95.17,311.83 L95.38,311.82 L95.60,311.80 L95.81,311.78 L96.02,311.75 L96.24,311.73 L96.45,311.69 L96.66,311.65 L96.88,311.61 L97.09,311.56 L97.30,311.51 L97.51,311.45 L97.73,311.38 L97.94,311.31 L98.15,311.24 L98.37,311.15 L98.58,311.07 L98.79,310.97 L99.01,310.88 L99.22,310.78 L99.43,310.68 L99.65,310.58 L99.86,310.49 L100.07,310.39 L100.28,310.30 L100.50,310.21 L100.71,310.13 L100.92,310.06 L101.14,309.99 L101.35,309.94 L101.56,309.90 L101.78,309.87 L101.99,309.86 L102.20,309.85 L102.42,309.86 L102.63,309.88 L102.84,309.92 L103.05,309.97 L103.27,310.02 L103.48,310.09 L103.69,310.17 L103.91,310.25 L104.12,310.34 L104.33,310.44 L104.55,310.53 L104.76,310.63 L104.97,310.73 L105.19,310.83 L105.40,310.93 L105.61,311.02 L105.83,311.11 L106.04,311.19 L106.25,311.27 L106.46,311.35 L106.68,311.42 L106.89,311.48 L107.10,311.54 L107.32,311.59 L107.53,311.63 L107.74,311.67 L107.96,311.71 L108.17,311.74 L108.38,311.77 L108.60,311.79 L108.81,311.81 L109.02,311.83 L109.23,311.84 L109.45,311.85 L109.66,311.86 L109.87,311.87 L110.09,311.88 L110.30,311.88 L110.51,311.89 L110.73,311.89 L110.94,311.89 L111.15,311.89 L111.37,311.89 L111.58,311.90 L111.79,311.90 L112.01,311.90 L112.22,311.90 L112.43,311.90 L112.64,311.90 L112.86,311.90 L113.07,311.90 L113.28,311.90 L113.50,311.90 L113.71,311.90 L113.92,311.90 L114.14,311.90 L114.35,311.90 L114.56,311.90 L114.78,311.90 L114.99,311.90 L115.20,311.90 L115.41,311.90 L115.63,311.90 L115.84,311.90 L116.05,311.90 L116.27,311.90 L116.48,311.90 L116.69,311.90 L116.91,311.90 L117.12,311.90 L117.33,311.90 L117.55,311.90 L117.76,311.90 L117.97,311.90 L118.19,311.90 L118.40,311.90 L118.61,311.90 L118.82,311.90 L119.04,311.90 L119.25,311.90 L119.46,311.90 L119.68,311.90 L119.89,311.90 L120.10,311.90 L120.32,311.90 L120.53,311.90 L120.74,311.90 L120.96,311.90 L121.17,311.90 L121.38,311.90 L121.59,311.90 L121.81,311.90 L122.02,311.90 L122.23,311.90 L122.45,311.90 L122.66,311.90 L122.87,311.90 L123.09,311.90 L123.30,311.90 L123.51,311.90 L123.73,311.90 L123.94,311.90 L124.15,311.90 L124.36,311.90 L124.58,311.90 L124.79,311.90 L125.00,311.90 L125.22,311.90 L125.43,311.90 L125.64,311.90 L125.86,311.90 L126.07,311.90 L126.28,311.90 L126.50,311.90 L126.71,311.90 L126.92,311.90 L127.14,311.90 L127.35,311.90 L127.56,311.90 L127.77,311.90 L127.99,311.90 L128.20,311.90 L128.41,311.90 L128.63,311.90 L128.84,311.90 L129.05,311.90 L129.27,311.90 L129.48,311.90 L129.69,311.90 L129.91,311.90 L130.12,311.90 L130.33,311.90 L130.54,311.90 L130.76,311.90 L130.97,311.90 L131.18,311.90 L131.40,311.90 L131.61,311.90 L131.82,311.90 L132.04,311.90 L132.25,311.90 L132.46,311.90 L132.68,311.90 L132.89,311.90 L133.10,311.90 L133.32,311.90 L133.53,311.90 L133.74,311.90 L133.95,311.90 L134.17,311.90 L134.38,311.90 L134.59,311.90 L134.81,311.90 L135.02,311.90 L135.23,311.90 L135.45,311.90 L135.66,311.90 L135.87,311.90 L136.09,311.90 L136.30,311.90 L136.51,311.90 L136.72,311.90 L136.94,311.90 L137.15,311.90 L137.36,311.90 L137.58,311.90 L137.79,311.90 L138.00,311.90 L138.22,311.90 L138.43,311.90 L138.64,311.90 L138.86,311.90 L139.07,311.90 L139.28,311.90 L139.50,311.90 L139.71,311.90 L139.92,311.90 L140.13,311.90 L140.35,311.90 L140.56,311.90 L140.77,311.90 L140.99,311.90 L141.20,311.90 L141.41,311.90 L141.63,311.90 L141.84,311.90 L142.05,311.90 L142.27,311.90 L142.48,311.90 L142.69,311.90 L142.90,311.90 L143.12,311.90 L143.33,311.90 L143.54,311.90 L143.76,311.90 L143.97,311.90 L144.18,311.90 L144.40,311.90 L144.61,311.90 L144.82,311.90 L145.04,311.90 L145.25,311.90 L145.46,311.90 L145.67,311.90 L145.89,311.90 L146.10,311.90 L146.31,311.90 L146.53,311.90 L146.74,311.90 L146.95,311.90 L147.17,311.90 L147.38,311.90 L147.59,311.89 L147.81,311.89 L148.02,311.89 L148.23,311.89 L148.45,311.88 L148.66,311.88 L148.87,311.87 L149.08,311.86 L149.30,311.85 L149.51,311.84 L149.72,311.83 L149.94,311.81 L150.15,311.79 L150.36,311.77 L150.58,311.74 L150.79,311.71 L151.00,311.68 L151.22,311.64 L151.43,311.59 L151.64,311.54 L151.85,311.48 L152.07,311.41 L152.28,311.34 L152.49,311.26 L152.71,311.17 L152.92,311.08 L153.13,310.99 L153.35,310.88 L153.56,310.78 L153.77,310.67 L153.99,310.56 L154.20,310.45 L154.41,310.34 L154.63,310.23 L154.84,310.12 L155.05,310.02 L155.26,309.93 L155.48,309.85 L155.69,309.77 L155.90,309.71 L156.12,309.66 L156.33,309.63 L156.54,309.60 L156.76,309.60 L156.97,309.60 L157.18,309.63 L157.40,309.66 L157.61,309.71 L157.82,309.77 L158.03,309.85 L158.25,309.93 L158.46,310.02 L158.67,310.12 L158.89,310.23 L159.10,310.34 L159.31,310.45 L159.53,310.56 L159.74,310.67 L159.95,310.78 L160.17,310.88 L160.38,310.99 L160.59,311.08 L160.81,311.17 L161.02,311.26 L161.23,311.34 L161.44,311.41 L161.66,311.48 L161.87,311.54 L162.08,311.59 L162.30,311.64 L162.51,311.68 L162.72,311.71 L162.94,311.74 L163.15,311.77 L163.36,311.79 L163.58,311.81 L163.79,311.83 L164.00,311.84 L164.21,311.85 L164.43,311.86 L164.64,311.87 L164.85,311.88 L165.07,311.88 L165.28,311.89 L165.49,311.89 L165.71,311.89 L165.92,311.89 L166.13,311.90 L166.35,311.90 L166.56,311.90 L166.77,311.90 L166.98,311.90 L167.20,311.90 L167.41,311.90 L167.62,311.90 L167.84,311.90 L168.05,311.90 L168.26,311.90 L168.48,311.90 L168.69,311.90 L168.90,311.90 L169.12,311.90 L169.33,311.90 L169.54,311.90 L169.76,311.90 L169.97,311.90 L170.18,311.90 L170.39,311.90 L170.61,311.90 L170.82,311.90 L171.03,311.90 L171.25,311.90 L171.46,311.90 L171.67,311.90 L171.89,311.90 L172.10,311.90 L172.31,311.90 L172.53,311.90 L172.74,311.90 L172.95,311.90 L173.16,311.90 L173.38,311.90 L173.59,311.90 L173.80,311.90 L174.02,311.90 L174.23,311.90 L174.44,311.90 L174.66,311.90 L174.87,311.90 L175.08,311.90 L175.30,311.90 L175.51,311.90 L175.72,311.90 L175.94,311.90 L176.15,311.90 L176.36,311.90 L176.57,311.90 L176.79,311.90 L177.00,311.90 L177.21,311.90 L177.43,311.90 L177.64,311.90 L177.85,311.90 L178.07,311.90 L178.28,311.90 L178.49,311.90 L178.71,311.90 L178.92,311.90 L179.13,311.90 L179.34,311.90 L179.56,311.90 L179.77,311.90 L179.98,311.90 L180.20,311.90 L180.41,311.90 L180.62,311.90 L180.84,311.90 L181.05,311.90 L181.26,311.90 L181.48,311.90 L181.69,311.90 L181.90,311.90 L182.12,311.90 L182.33,311.90 L182.54,311.90 L182.75,311.90 L182.97,311.90 L183.18,311.90 L183.39,311.90 L183.61,311.90 L183.82,311.90 L184.03,311.90 L184.25,311.90 L184.46,311.90 L184.67,311.90 L184.89,311.90 L185.10,311.90 L185.31,311.90 L185.52,311.90 L185.74,311.90 L185.95,311.90 L186.16,311.90 L186.38,311.90 L186.59,311.90 L186.80,311.90 L187.02,311.90 L187.23,311.90 L187.44,311.90 L187.66,311.90 L187.87,311.90 L188.08,311.90 L188.29,311.90 L188.51,311.90 L188.72,311.90 L188.93,311.90 L189.15,311.90 L189.36,311.90 L189.57,311.90 L189.79,311.90 L190.00,311.90 L190.21,311.90 L190.43,311.90 L190.64,311.90 L190.85,311.90 L191.07,311.90 L191.28,311.90 L191.49,311.90 L191.70,311.90 L191.92,311.90 L192.13,311.90 L192.34,311.90 L192.56,311.90 L192.77,311.90 L192.98,311.90 L193.20,311.90 L193.41,311.90 L193.62,311.90 L193.84,311.90 L194.05,311.90 L194.26,311.90 L194.47,311.90 L194.69,311.90 L194.90,311.90 L195.11,311.90 L195.33,311.90 L195.54,311.90 L195.75,311.90 L195.97,311.90 L196.18,311.90 L196.39,311.90 L196.61,311.90 L196.82,311.90 L197.03,311.90 L197.25,311.90 L197.46,311.90 L197.67,311.90 L197.88,311.90 L198.10,311.90 L198.31,311.90 L198.52,311.90 L198.74,311.90 L198.95,311.90 L199.16,311.90 L199.38,311.90 L199.59,311.90 L199.80,311.90 L200.02,311.90 L200.23,311.90 L200.44,311.90 L200.65,311.90 L200.87,311.90 L201.08,311.90 L201.29,311.90 L201.51,311.90 L201.72,311.90 L201.93,311.90 L202.15,311.90 L202.36,311.90 L202.57,311.90 L202.79,311.90 L203.00,311.90 L203.21,311.90 L203.43,311.90 L203.64,311.90 L203.85,311.90 L204.06,311.90 L204.28,311.90 L204.49,311.90 L204.70,311.90 L204.92,311.90 L205.13,311.90 L205.34,311.90 L205.56,311.90 L205.77,311.90 L205.98,311.90 L206.20,311.90 L206.41,311.90 L206.62,311.90 L206.83,311.90 L207.05,311.90 L207.26,311.90 L207.47,311.90 L207.69,311.90 L207.90,311.90 L208.11,311.90 L208.33,311.90 L208.54,311.90 L208.75,311.90 L208.97,311.90 L209.18,311.90 L209.39,311.90 L209.60,311.90 L209.82,311.90 L210.03,311.90 L210.24,311.90 L210.46,311.90 L210.67,311.90 L210.88,311.90 L211.10,311.90 L211.31,311.90 L211.52,311.90 L211.74,311.90 L211.95,311.90 L212.16,311.90 L212.38,311.90 L212.59,311.90 L212.80,311.90 L213.01,311.90 L213.23,311.90 L213.44,311.90 L213.65,311.90 L213.87,311.90 L214.08,311.90 L214.29,311.90 L214.51,311.90 L214.72,311.90 L214.93,311.90 L215.15,311.90 L215.36,311.90 L215.57,311.90 L215.78,311.90 L216.00,311.90 L216.21,311.90 L216.42,311.90 L216.64,311.90 L216.85,311.90 L217.06,311.90 L217.28,311.90 L217.49,311.90 L217.70,311.90 L217.92,311.90 L218.13,311.90 L218.34,311.90 L218.56,311.90 L218.77,311.90 L218.98,311.90 L219.19,311.90 L219.41,311.90 L219.62,311.90 L219.83,311.90 L220.05,311.90 L220.26,311.90 L220.47,311.90 L220.69,311.90 L220.90,311.90 L221.11,311.90 L221.33,311.90 L221.54,311.90 L221.75,311.90 L221.96,311.90 L222.18,311.90 L222.39,311.90 L222.60,311.90 L222.82,311.90 L223.03,311.90 L223.24,311.90 L223.46,311.90 L223.67,311.90 L223.88,311.90 L224.10,311.90 L224.31,311.90 L224.52,311.90 L224.74,311.90 L224.95,311.90 L225.16,311.90 L225.37,311.90 L225.59,311.90 L225.80,311.90 L226.01,311.90 L226.23,311.90 L226.44,311.90 L226.65,311.90 L226.87,311.90 L227.08,311.90 L227.29,311.90 L227.51,311.90 L227.72,311.90 L227.93,311.90 L228.14,311.90 L228.36,311.90 L228.57,311.90 L228.78,311.90 L229.00,311.90 L229.21,311.90 L229.42,311.90 L229.64,311.90 L229.85,311.91 L230.06,311.91 L230.28,311.91 L230.49,311.91 L230.70,311.92 L230.91,311.92 L231.13,311.93 L231.34,311.94 L231.55,311.95 L231.77,311.96 L231.98,311.97 L232.19,311.99 L232.41,312.01 L232.62,312.03 L232.83,312.06 L233.05,312.09 L233.26,312.12 L233.47,312.15 L233.69,312.18 L233.90,312.22 L234.11,312.26 L234.32,312.30 L234.54,312.34 L234.75,312.37 L234.96,312.41 L235.18,312.44 L235.39,312.47 L235.60,312.49 L235.82,312.51 L236.03,312.52 L236.24,312.53 L236.46,312.52 L236.67,312.51 L236.88,312.50 L237.09,312.47 L237.31,312.44 L237.52,312.40 L237.73,312.36 L237.95,312.31 L238.16,312.25 L238.37,312.19 L238.59,312.13 L238.80,312.06 L239.01,311.98 L239.23,311.91 L239.44,311.83 L239.65,311.74 L239.87,311.65 L240.08,311.56 L240.29,311.46 L240.50,311.35 L240.72,311.25 L240.93,311.14 L241.14,311.02 L241.36,310.90 L241.57,310.78 L241.78,310.65 L242.00,310.52 L242.21,310.39 L242.42,310.27 L242.64,310.14 L242.85,310.02 L243.06,309.90 L243.27,309.79 L243.49,309.69 L243.70,309.60 L243.91,309.52 L244.13,309.45 L244.34,309.40 L244.55,309.37 L244.77,309.34 L244.98,309.34 L245.19,309.35 L245.41,309.38 L245.62,309.43 L245.83,309.48 L246.05,309.56 L246.26,309.64 L246.47,309.74 L246.68,309.84 L246.90,309.95 L247.11,310.07 L247.32,310.19 L247.54,310.32 L247.75,310.44 L247.96,310.56 L248.18,310.68 L248.39,310.80 L248.60,310.91 L248.82,311.02 L249.03,311.12 L249.24,311.21 L249.45,311.30 L249.67,311.37 L249.88,311.45 L250.09,311.51 L250.31,311.57 L250.52,311.62 L250.73,311.66 L250.95,311.70 L251.16,311.73 L251.37,311.76 L251.59,311.79 L251.80,311.81 L252.01,311.83 L252.22,311.84 L252.44,311.85 L252.65,311.86 L252.86,311.87 L253.08,311.88 L253.29,311.88 L253.50,311.89 L253.72,311.89 L253.93,311.89 L254.14,311.89 L254.36,311.90 L254.57,311.90 L254.78,311.90 L255.00,311.90 L255.21,311.90 L255.42,311.90 L255.63,311.90 L255.85,311.90 L256.06,311.90 L256.27,311.90 L256.49,311.90 L256.70,311.90 L256.91,311.90 L257.13,311.90 L257.34,311.90 L257.55,311.90 L257.77,311.90 L257.98,311.90 L258.19,311.90 L258.40,311.90 L258.62,311.90 L258.83,311.90 L259.04,311.90 L259.26,311.90 L259.47,311.90 L259.68,311.90 L259.90,311.90 L260.11,311.90 L260.32,311.90 L260.54,311.90 L260.75,311.90 L260.96,311.90 L261.18,311.90 L261.39,311.90 L261.60,311.90 L261.81,311.90 L262.03,311.90 L262.24,311.90 L262.45,311.90 L262.67,311.90 L262.88,311.90 L263.09,311.90 L263.31,311.90 L263.52,311.90 L263.73,311.90 L263.95,311.90 L264.16,311.90 L264.37,311.90 L264.58,311.90 L264.80,311.90 L265.01,311.90 L265.22,311.90 L265.44,311.90 L265.65,311.90 L265.86,311.90 L266.08,311.90 L266.29,311.90 L266.50,311.90 L266.72,311.90 L266.93,311.90 L267.14,311.90 L267.36,311.90 L267.57,311.90 L267.78,311.90 L267.99,311.90 L268.21,311.90 L268.42,311.90 L268.63,311.90 L268.85,311.90" stroke="#1263e8" stroke-width="2.2"/>
<path d="M61.93,311.90 L62.14,311.90 L62.35,311.90 L62.57,311.90 L62.78,311.90 L62.99,311.90 L63.21,311.90 L63.42,311.90 L63.63,311.90 L63.84,311.90 L64.06,311.90 L64.27,311.90 L64.48,311.90 L64.70,311.90 L64.91,311.90 L65.12,311.90 L65.34,311.90 L65.55,311.90 L65.76,311.90 L65.98,311.90 L66.19,311.90 L66.40,311.90 L66.61,311.90 L66.83,311.90 L67.04,311.90 L67.25,311.90 L67.47,311.90 L67.68,311.90 L67.89,311.90 L68.11,311.90 L68.32,311.90 L68.53,311.90 L68.75,311.90 L68.96,311.90 L69.17,311.90 L69.39,311.90 L69.60,311.90 L69.81,311.90 L70.02,311.90 L70.24,311.90 L70.45,311.90 L70.66,311.90 L70.88,311.90 L71.09,311.90 L71.30,311.90 L71.52,311.90 L71.73,311.90 L71.94,311.90 L72.16,311.90 L72.37,311.90 L72.58,311.90 L72.79,311.90 L73.01,311.90 L73.22,311.90 L73.43,311.90 L73.65,311.90 L73.86,311.90 L74.07,311.90 L74.29,311.90 L74.50,311.90 L74.71,311.90 L74.93,311.90 L75.14,311.90 L75.35,311.90 L75.57,311.90 L75.78,311.90 L75.99,311.90 L76.20,311.90 L76.42,311.90 L76.63,311.90 L76.84,311.90 L77.06,311.90 L77.27,311.90 L77.48,311.90 L77.70,311.90 L77.91,311.90 L78.12,311.90 L78.34,311.90 L78.55,311.90 L78.76,311.90 L78.97,311.90 L79.19,311.90 L79.40,311.90 L79.61,311.90 L79.83,311.90 L80.04,311.90 L80.25,311.90 L80.47,311.90 L80.68,311.90 L80.89,311.90 L81.11,311.90 L81.32,311.90 L81.53,311.90 L81.74,311.90 L81.96,311.90 L82.17,311.90 L82.38,311.89 L82.60,311.89 L82.81,311.89 L83.02,311.89 L83.24,311.88 L83.45,311.88 L83.66,311.87 L83.88,311.86 L84.09,311.84 L84.30,311.83 L84.52,311.81 L84.73,311.79 L84.94,311.76 L85.15,311.72 L85.37,311.68 L85.58,311.63 L85.79,311.57 L86.01,311.50 L86.22,311.42 L86.43,311.33 L86.65,311.23 L86.86,311.12 L87.07,310.99 L87.29,310.85 L87.50,310.69 L87.71,310.53 L87.92,310.35 L88.14,310.17 L88.35,309.97 L88.56,309.77 L88.78,309.57 L88.99,309.37 L89.20,309.17 L89.42,308.98 L89.63,308.80 L89.84,308.63 L90.06,308.47 L90.27,308.34 L90.48,308.23 L90.70,308.15 L90.91,308.09 L91.12,308.06 L91.33,308.06 L91.55,308.09 L91.76,308.15 L91.97,308.23 L92.19,308.34 L92.40,308.46 L92.61,308.61 L92.83,308.77 L93.04,308.95 L93.25,309.13 L93.47,309.31 L93.68,309.49 L93.89,309.67 L94.10,309.83 L94.32,309.97 L94.53,310.09 L94.74,310.19 L94.96,310.25 L95.17,310.26 L95.38,310.24 L95.60,310.15 L95.81,310.01 L96.02,309.79 L96.24,309.50 L96.45,309.12 L96.66,308.63 L96.88,308.04 L97.09,307.34 L97.30,306.50 L97.51,305.54 L97.73,304.43 L97.94,303.17 L98.15,301.78 L98.37,300.23 L98.58,298.55 L98.79,296.73 L99.01,294.80 L99.22,292.78 L99.43,290.67 L99.65,288.52 L99.86,286.35 L100.07,284.20 L100.28,282.10 L100.50,280.09 L100.71,278.22 L100.92,276.52 L101.14,275.02 L101.35,273.76 L101.56,272.77 L101.78,272.06 L101.99,271.67 L102.20,271.59 L102.42,271.83 L102.63,272.38 L102.84,273.23 L103.05,274.36 L103.27,275.74 L103.48,277.35 L103.69,279.14 L103.91,281.09 L104.12,283.14 L104.33,285.28 L104.55,287.44 L104.76,289.61 L104.97,291.75 L105.19,293.82 L105.40,295.81 L105.61,297.69 L105.83,299.46 L106.04,301.08 L106.25,302.57 L106.46,303.92 L106.68,305.13 L106.89,306.20 L107.10,307.13 L107.32,307.95 L107.53,308.65 L107.74,309.25 L107.96,309.75 L108.17,310.18 L108.38,310.53 L108.60,310.81 L108.81,311.04 L109.02,311.23 L109.23,311.38 L109.45,311.50 L109.66,311.58 L109.87,311.65 L110.09,311.70 L110.30,311.72 L110.51,311.74 L110.73,311.74 L110.94,311.73 L111.15,311.70 L111.37,311.66 L111.58,311.61 L111.79,311.55 L112.01,311.47 L112.22,311.37 L112.43,311.26 L112.64,311.13 L112.86,310.98 L113.07,310.83 L113.28,310.65 L113.50,310.47 L113.71,310.29 L113.92,310.10 L114.14,309.91 L114.35,309.73 L114.56,309.56 L114.78,309.41 L114.99,309.29 L115.20,309.19 L115.41,309.12 L115.63,309.09 L115.84,309.09 L116.05,309.12 L116.27,309.19 L116.48,309.29 L116.69,309.41 L116.91,309.56 L117.12,309.73 L117.33,309.91 L117.55,310.10 L117.76,310.29 L117.97,310.47 L118.19,310.66 L118.40,310.83 L118.61,310.99 L118.82,311.13 L119.04,311.26 L119.25,311.38 L119.46,311.47 L119.68,311.56 L119.89,311.63 L120.10,311.69 L120.32,311.74 L120.53,311.78 L120.74,311.81 L120.96,311.83 L121.17,311.85 L121.38,311.86 L121.59,311.87 L121.81,311.88 L122.02,311.89 L122.23,311.89 L122.45,311.89 L122.66,311.90 L122.87,311.90 L123.09,311.90 L123.30,311.90 L123.51,311.90 L123.73,311.90 L123.94,311.90 L124.15,311.90 L124.36,311.90 L124.58,311.90 L124.79,311.90 L125.00,311.90 L125.22,311.90 L125.43,311.90 L125.64,311.90 L125.86,311.90 L126.07,311.90 L126.28,311.90 L126.50,311.90 L126.71,311.90 L126.92,311.90 L127.14,311.90 L127.35,311.90 L127.56,311.90 L127.77,311.90 L127.99,311.90 L128.20,311.90 L128.41,311.90 L128.63,311.90 L128.84,311.90 L129.05,311.90 L129.27,311.90 L129.48,311.90 L129.69,311.90 L129.91,311.90 L130.12,311.90 L130.33,311.90 L130.54,311.90 L130.76,311.90 L130.97,311.90 L131.18,311.90 L131.40,311.89 L131.61,311.89 L131.82,311.89 L132.04,311.89 L132.25,311.89 L132.46,311.89 L132.68,311.89 L132.89,311.88 L133.10,311.88 L133.32,311.88 L133.53,311.88 L133.74,311.87 L133.95,311.87 L134.17,311.87 L134.38,311.86 L134.59,311.86 L134.81,311.85 L135.02,311.85 L135.23,311.84 L135.45,311.83 L135.66,311.82 L135.87,311.82 L136.09,311.81 L136.30,311.80 L136.51,311.79 L136.72,311.77 L136.94,311.76 L137.15,311.75 L137.36,311.73 L137.58,311.71 L137.79,311.70 L138.00,311.68 L138.22,311.66 L138.43,311.64 L138.64,311.61 L138.86,311.59 L139.07,311.56 L139.28,311.54 L139.50,311.51 L139.71,311.48 L139.92,311.45 L140.13,311.42 L140.35,311.38 L140.56,311.35 L140.77,311.31 L140.99,311.28 L141.20,311.24 L141.41,311.20 L141.63,311.16 L141.84,311.12 L142.05,311.08 L142.27,311.04 L142.48,311.00 L142.69,310.96 L142.90,310.92 L143.12,310.88 L143.33,310.83 L143.54,310.79 L143.76,310.76 L143.97,310.72 L144.18,310.68 L144.40,310.64 L144.61,310.61 L144.82,310.58 L145.04,310.54 L145.25,310.51 L145.46,310.49 L145.67,310.46 L145.89,310.44 L146.10,310.42 L146.31,310.40 L146.53,310.39 L146.74,310.37 L146.95,310.36 L147.17,310.35 L147.38,310.34 L147.59,310.33 L147.81,310.32 L148.02,310.31 L148.23,310.29 L148.45,310.27 L148.66,310.24 L148.87,310.20 L149.08,310.15 L149.30,310.07 L149.51,309.97 L149.72,309.83 L149.94,309.65 L150.15,309.42 L150.36,309.13 L150.58,308.77 L150.79,308.32 L151.00,307.77 L151.22,307.10 L151.43,306.30 L151.64,305.36 L151.85,304.25 L152.07,302.97 L152.28,301.50 L152.49,299.83 L152.71,297.95 L152.92,295.87 L153.13,293.58 L153.35,291.10 L153.56,288.43 L153.77,285.60 L153.99,282.64 L154.20,279.57 L154.41,276.45 L154.63,273.31 L154.84,270.21 L155.05,267.21 L155.26,264.35 L155.48,261.70 L155.69,259.30 L155.90,257.22 L156.12,255.50 L156.33,254.18 L156.54,253.29 L156.76,252.85 L156.97,252.87 L157.18,253.35 L157.40,254.28 L157.61,255.64 L157.82,257.40 L158.03,259.52 L158.25,261.95 L158.46,264.64 L158.67,267.54 L158.89,270.59 L159.10,273.73 L159.31,276.91 L159.53,280.08 L159.74,283.18 L159.95,286.19 L160.17,289.06 L160.38,291.77 L160.59,294.30 L160.81,296.63 L161.02,298.76 L161.23,300.67 L161.44,302.38 L161.66,303.89 L161.87,305.21 L162.08,306.35 L162.30,307.33 L162.51,308.15 L162.72,308.84 L162.94,309.40 L163.15,309.85 L163.36,310.21 L163.58,310.48 L163.79,310.68 L164.00,310.81 L164.21,310.89 L164.43,310.91 L164.64,310.88 L164.85,310.80 L165.07,310.69 L165.28,310.54 L165.49,310.35 L165.71,310.13 L165.92,309.88 L166.13,309.60 L166.35,309.30 L166.56,308.97 L166.77,308.63 L166.98,308.28 L167.20,307.92 L167.41,307.56 L167.62,307.22 L167.84,306.88 L168.05,306.57 L168.26,306.28 L168.48,306.04 L168.69,305.83 L168.90,305.67 L169.12,305.56 L169.33,305.51 L169.54,305.51 L169.76,305.56 L169.97,305.67 L170.18,305.83 L170.39,306.04 L170.61,306.29 L170.82,306.57 L171.03,306.88 L171.25,307.22 L171.46,307.57 L171.67,307.93 L171.89,308.29 L172.10,308.64 L172.31,308.99 L172.53,309.32 L172.74,309.64 L172.95,309.93 L173.16,310.20 L173.38,310.44 L173.59,310.66 L173.80,310.86 L174.02,311.03 L174.23,311.18 L174.44,311.31 L174.66,311.42 L174.87,311.52 L175.08,311.59 L175.30,311.66 L175.51,311.71 L175.72,311.75 L175.94,311.79 L176.15,311.81 L176.36,311.83 L176.57,311.85 L176.79,311.86 L177.00,311.87 L177.21,311.88 L177.43,311.89 L177.64,311.89 L177.85,311.89 L178.07,311.89 L178.28,311.90 L178.49,311.90 L178.71,311.90 L178.92,311.90 L179.13,311.90 L179.34,311.90 L179.56,311.90 L179.77,311.90 L179.98,311.90 L180.20,311.90 L180.41,311.90 L180.62,311.90 L180.84,311.90 L181.05,311.90 L181.26,311.90 L181.48,311.90 L181.69,311.90 L181.90,311.90 L182.12,311.90 L182.33,311.90 L182.54,311.90 L182.75,311.90 L182.97,311.90 L183.18,311.90 L183.39,311.90 L183.61,311.90 L183.82,311.90 L184.03,311.90 L184.25,311.90 L184.46,311.90 L184.67,311.90 L184.89,311.90 L185.10,311.90 L185.31,311.90 L185.52,311.90 L185.74,311.90 L185.95,311.90 L186.16,311.90 L186.38,311.90 L186.59,311.90 L186.80,311.90 L187.02,311.90 L187.23,311.90 L187.44,311.90 L187.66,311.90 L187.87,311.90 L188.08,311.90 L188.29,311.90 L188.51,311.90 L188.72,311.90 L188.93,311.90 L189.15,311.90 L189.36,311.90 L189.57,311.90 L189.79,311.90 L190.00,311.90 L190.21,311.90 L190.43,311.90 L190.64,311.90 L190.85,311.90 L191.07,311.90 L191.28,311.90 L191.49,311.90 L191.70,311.90 L191.92,311.90 L192.13,311.90 L192.34,311.90 L192.56,311.90 L192.77,311.90 L192.98,311.90 L193.20,311.90 L193.41,311.90 L193.62,311.90 L193.84,311.90 L194.05,311.90 L194.26,311.90 L194.47,311.90 L194.69,311.90 L194.90,311.90 L195.11,311.90 L195.33,311.90 L195.54,311.90 L195.75,311.90 L195.97,311.90 L196.18,311.90 L196.39,311.90 L196.61,311.90 L196.82,311.90 L197.03,311.90 L197.25,311.90 L197.46,311.90 L197.67,311.90 L197.88,311.90 L198.10,311.90 L198.31,311.90 L198.52,311.90 L198.74,311.90 L198.95,311.90 L199.16,311.90 L199.38,311.90 L199.59,311.90 L199.80,311.90 L200.02,311.90 L200.23,311.90 L200.44,311.90 L200.65,311.90 L200.87,311.90 L201.08,311.90 L201.29,311.90 L201.51,311.90 L201.72,311.90 L201.93,311.90 L202.15,311.90 L202.36,311.90 L202.57,311.90 L202.79,311.90 L203.00,311.90 L203.21,311.90 L203.43,311.90 L203.64,311.90 L203.85,311.90 L204.06,311.90 L204.28,311.90 L204.49,311.90 L204.70,311.90 L204.92,311.90 L205.13,311.90 L205.34,311.90 L205.56,311.90 L205.77,311.90 L205.98,311.90 L206.20,311.90 L206.41,311.90 L206.62,311.90 L206.83,311.90 L207.05,311.90 L207.26,311.90 L207.47,311.90 L207.69,311.90 L207.90,311.90 L208.11,311.90 L208.33,311.90 L208.54,311.90 L208.75,311.90 L208.97,311.90 L209.18,311.90 L209.39,311.90 L209.60,311.90 L209.82,311.90 L210.03,311.90 L210.24,311.90 L210.46,311.90 L210.67,311.90 L210.88,311.90 L211.10,311.90 L211.31,311.90 L211.52,311.90 L211.74,311.90 L211.95,311.90 L212.16,311.90 L212.38,311.90 L212.59,311.90 L212.80,311.90 L213.01,311.90 L213.23,311.90 L213.44,311.90 L213.65,311.90 L213.87,311.90 L214.08,311.90 L214.29,311.90 L214.51,311.90 L214.72,311.90 L214.93,311.90 L215.15,311.90 L215.36,311.90 L215.57,311.90 L215.78,311.90 L216.00,311.90 L216.21,311.90 L216.42,311.90 L216.64,311.90 L216.85,311.90 L217.06,311.90 L217.28,311.90 L217.49,311.90 L217.70,311.90 L217.92,311.90 L218.13,311.90 L218.34,311.90 L218.56,311.90 L218.77,311.90 L218.98,311.90 L219.19,311.90 L219.41,311.90 L219.62,311.90 L219.83,311.90 L220.05,311.90 L220.26,311.90 L220.47,311.90 L220.69,311.90 L220.90,311.90 L221.11,311.90 L221.33,311.90 L221.54,311.90 L221.75,311.90 L221.96,311.90 L222.18,311.90 L222.39,311.90 L222.60,311.90 L222.82,311.90 L223.03,311.90 L223.24,311.90 L223.46,311.90 L223.67,311.90 L223.88,311.90 L224.10,311.90 L224.31,311.90 L224.52,311.90 L224.74,311.90 L224.95,311.90 L225.16,311.90 L225.37,311.90 L225.59,311.90 L225.80,311.90 L226.01,311.90 L226.23,311.90 L226.44,311.90 L226.65,311.90 L226.87,311.90 L227.08,311.90 L227.29,311.90 L227.51,311.90 L227.72,311.90 L227.93,311.90 L228.14,311.90 L228.36,311.90 L228.57,311.90 L228.78,311.90 L229.00,311.90 L229.21,311.90 L229.42,311.90 L229.64,311.89 L229.85,311.89 L230.06,311.89 L230.28,311.89 L230.49,311.88 L230.70,311.87 L230.91,311.87 L231.13,311.86 L231.34,311.85 L231.55,311.83 L231.77,311.82 L231.98,311.80 L232.19,311.77 L232.41,311.75 L232.62,311.71 L232.83,311.68 L233.05,311.64 L233.26,311.60 L233.47,311.55 L233.69,311.50 L233.90,311.45 L234.11,311.40 L234.32,311.34 L234.54,311.29 L234.75,311.24 L234.96,311.19 L235.18,311.14 L235.39,311.10 L235.60,311.06 L235.82,311.04 L236.03,311.02 L236.24,311.01 L236.46,311.00 L236.67,311.01 L236.88,311.02 L237.09,311.05 L237.31,311.08 L237.52,311.11 L237.73,311.16 L237.95,311.20 L238.16,311.25 L238.37,311.30 L238.59,311.35 L238.80,311.40 L239.01,311.45 L239.23,311.49 L239.44,311.54 L239.65,311.57 L239.87,311.60 L240.08,311.63 L240.29,311.65 L240.50,311.67 L240.72,311.68 L240.93,311.69 L241.14,311.69 L241.36,311.68 L241.57,311.68 L241.78,311.67 L242.00,311.65 L242.21,311.63 L242.42,311.62 L242.64,311.60 L242.85,311.57 L243.06,311.55 L243.27,311.53 L243.49,311.51 L243.70,311.49 L243.91,311.47 L244.13,311.45 L244.34,311.43 L244.55,311.42 L244.77,311.40 L244.98,311.40 L245.19,311.39 L245.41,311.39 L245.62,311.39 L245.83,311.39 L246.05,311.40 L246.26,311.41 L246.47,311.42 L246.68,311.44 L246.90,311.46 L247.11,311.48 L247.32,311.50 L247.54,311.52 L247.75,311.55 L247.96,311.57 L248.18,311.60 L248.39,311.62 L248.60,311.64 L248.82,311.67 L249.03,311.69 L249.24,311.71 L249.45,311.73 L249.67,311.75 L249.88,311.77 L250.09,311.79 L250.31,311.80 L250.52,311.82 L250.73,311.83 L250.95,311.84 L251.16,311.85 L251.37,311.86 L251.59,311.86 L251.80,311.87 L252.01,311.88 L252.22,311.88 L252.44,311.88 L252.65,311.89 L252.86,311.89 L253.08,311.89 L253.29,311.89 L253.50,311.89 L253.72,311.90 L253.93,311.90 L254.14,311.90 L254.36,311.90 L254.57,311.90 L254.78,311.90 L255.00,311.90 L255.21,311.90 L255.42,311.90 L255.63,311.90 L255.85,311.90 L256.06,311.90 L256.27,311.90 L256.49,311.90 L256.70,311.90 L256.91,311.90 L257.13,311.90 L257.34,311.90 L257.55,311.90 L257.77,311.90 L257.98,311.90 L258.19,311.90 L258.40,311.90 L258.62,311.90 L258.83,311.90 L259.04,311.90 L259.26,311.90 L259.47,311.90 L259.68,311.90 L259.90,311.90 L260.11,311.90 L260.32,311.90 L260.54,311.90 L260.75,311.90 L260.96,311.90 L261.18,311.90 L261.39,311.90 L261.60,311.90 L261.81,311.90 L262.03,311.90 L262.24,311.90 L262.45,311.90 L262.67,311.90 L262.88,311.90 L263.09,311.90 L263.31,311.90 L263.52,311.90 L263.73,311.90 L263.95,311.90 L264.16,311.90 L264.37,311.90 L264.58,311.90 L264.80,311.90 L265.01,311.90 L265.22,311.90 L265.44,311.90 L265.65,311.90 L265.86,311.90 L266.08,311.90 L266.29,311.90 L266.50,311.90 L266.72,311.90 L266.93,311.90 L267.14,311.90 L267.36,311.90 L267.57,311.90 L267.78,311.90 L267.99,311.90 L268.21,311.90 L268.42,311.90 L268.63,311.90 L268.85,311.90" stroke="#08a558" stroke-width="2.5"/>
<path d="M61.93,311.83 L62.14,311.83 L62.35,311.83 L62.57,311.82 L62.78,311.82 L62.99,311.81 L63.21,311.81 L63.42,311.80 L63.63,311.80 L63.84,311.79 L64.06,311.79 L64.27,311.78 L64.48,311.78 L64.70,311.77 L64.91,311.76 L65.12,311.76 L65.34,311.75 L65.55,311.75 L65.76,311.74 L65.98,311.74 L66.19,311.73 L66.40,311.72 L66.61,311.72 L66.83,311.71 L67.04,311.71 L67.25,311.70 L67.47,311.69 L67.68,311.69 L67.89,311.68 L68.11,311.67 L68.32,311.67 L68.53,311.66 L68.75,311.65 L68.96,311.65 L69.17,311.64 L69.39,311.63 L69.60,311.62 L69.81,311.61 L70.02,311.60 L70.24,311.59 L70.45,311.57 L70.66,311.56 L70.88,311.55 L71.09,311.53 L71.30,311.51 L71.52,311.49 L71.73,311.47 L71.94,311.45 L72.16,311.43 L72.37,311.41 L72.58,311.39 L72.79,311.37 L73.01,311.34 L73.22,311.32 L73.43,311.29 L73.65,311.26 L73.86,311.24 L74.07,311.21 L74.29,311.18 L74.50,311.15 L74.71,311.12 L74.93,311.09 L75.14,311.06 L75.35,311.03 L75.57,311.00 L75.78,310.96 L75.99,310.93 L76.20,310.90 L76.42,310.86 L76.63,310.83 L76.84,310.79 L77.06,310.76 L77.27,310.72 L77.48,310.69 L77.70,310.65 L77.91,310.61 L78.12,310.58 L78.34,310.54 L78.55,310.50 L78.76,310.47 L78.97,310.43 L79.19,310.40 L79.40,310.36 L79.61,310.32 L79.83,310.29 L80.04,310.26 L80.25,310.22 L80.47,310.19 L80.68,310.16 L80.89,310.13 L81.11,310.10 L81.32,310.07 L81.53,310.05 L81.74,310.02 L81.96,310.00 L82.17,309.98 L82.38,309.96 L82.60,309.94 L82.81,309.92 L83.02,309.90 L83.24,309.88 L83.45,309.87 L83.66,309.85 L83.88,309.83 L84.09,309.81 L84.30,309.79 L84.52,309.76 L84.73,309.73 L84.94,309.69 L85.15,309.64 L85.37,309.58 L85.58,309.51 L85.79,309.43 L86.01,309.34 L86.22,309.22 L86.43,309.09 L86.65,308.94 L86.86,308.77 L87.07,308.58 L87.29,308.37 L87.50,308.14 L87.71,307.89 L87.92,307.62 L88.14,307.34 L88.35,307.04 L88.56,306.74 L88.78,306.43 L88.99,306.12 L89.20,305.82 L89.42,305.53 L89.63,305.26 L89.84,305.01 L90.06,304.79 L90.27,304.60 L90.48,304.46 L90.70,304.36 L90.91,304.30 L91.12,304.29 L91.33,304.33 L91.55,304.42 L91.76,304.56 L91.97,304.74 L92.19,304.97 L92.40,305.23 L92.61,305.53 L92.83,305.85 L93.04,306.20 L93.25,306.56 L93.47,306.93 L93.68,307.30 L93.89,307.66 L94.10,308.01 L94.32,308.35 L94.53,308.65 L94.74,308.92 L94.96,309.16 L95.17,309.34 L95.38,309.46 L95.60,309.52 L95.81,309.49 L96.02,309.37 L96.24,309.14 L96.45,308.77 L96.66,308.26 L96.88,307.57 L97.09,306.68 L97.30,305.56 L97.51,304.19 L97.73,302.54 L97.94,300.60 L98.15,298.32 L98.37,295.71 L98.58,292.76 L98.79,289.46 L99.01,285.83 L99.22,281.90 L99.43,277.70 L99.65,273.28 L99.86,268.73 L100.07,264.10 L100.28,259.50 L100.50,255.01 L100.71,250.76 L100.92,246.83 L101.14,243.34 L101.35,240.37 L101.56,238.02 L101.78,236.34 L101.99,235.39 L102.20,235.19 L102.42,235.76 L102.63,237.07 L102.84,239.09 L103.05,241.75 L103.27,244.98 L103.48,248.70 L103.69,252.80 L103.91,257.17 L104.12,261.72 L104.33,266.35 L104.55,270.95 L104.76,275.44 L104.97,279.75 L105.19,283.83 L105.40,287.62 L105.61,291.09 L105.83,294.24 L106.04,297.04 L106.25,299.50 L106.46,301.64 L106.68,303.48 L106.89,305.03 L107.10,306.33 L107.32,307.41 L107.53,308.29 L107.74,309.00 L107.96,309.56 L108.17,310.00 L108.38,310.35 L108.60,310.61 L108.81,310.81 L109.02,310.96 L109.23,311.06 L109.45,311.13 L109.66,311.18 L109.87,311.20 L110.09,311.20 L110.30,311.18 L110.51,311.15 L110.73,311.11 L110.94,311.05 L111.15,310.97 L111.37,310.87 L111.58,310.76 L111.79,310.63 L112.01,310.47 L112.22,310.29 L112.43,310.08 L112.64,309.85 L112.86,309.59 L113.07,309.31 L113.28,309.01 L113.50,308.70 L113.71,308.37 L113.92,308.05 L114.14,307.72 L114.35,307.41 L114.56,307.11 L114.78,306.84 L114.99,306.61 L115.20,306.42 L115.41,306.28 L115.63,306.19 L115.84,306.15 L116.05,306.16 L116.27,306.23 L116.48,306.34 L116.69,306.50 L116.91,306.69 L117.12,306.91 L117.33,307.15 L117.55,307.40 L117.76,307.66 L117.97,307.91 L118.19,308.16 L118.40,308.39 L118.61,308.60 L118.82,308.79 L119.04,308.96 L119.25,309.10 L119.46,309.23 L119.68,309.33 L119.89,309.41 L120.10,309.47 L120.32,309.52 L120.53,309.56 L120.74,309.58 L120.96,309.60 L121.17,309.60 L121.38,309.61 L121.59,309.61 L121.81,309.60 L122.02,309.60 L122.23,309.59 L122.45,309.58 L122.66,309.58 L122.87,309.57 L123.09,309.56 L123.30,309.55 L123.51,309.54 L123.73,309.54 L123.94,309.53 L124.15,309.52 L124.36,309.51 L124.58,309.50 L124.79,309.49 L125.00,309.49 L125.22,309.48 L125.43,309.47 L125.64,309.46 L125.86,309.45 L126.07,309.45 L126.28,309.44 L126.50,309.43 L126.71,309.43 L126.92,309.42 L127.14,309.41 L127.35,309.41 L127.56,309.40 L127.77,309.39 L127.99,309.39 L128.20,309.38 L128.41,309.37 L128.63,309.37 L128.84,309.36 L129.05,309.36 L129.27,309.35 L129.48,309.35 L129.69,309.34 L129.91,309.34 L130.12,309.33 L130.33,309.32 L130.54,309.32 L130.76,309.31 L130.97,309.31 L131.18,309.30 L131.40,309.30 L131.61,309.29 L131.82,309.29 L132.04,309.28 L132.25,309.28 L132.46,309.27 L132.68,309.27 L132.89,309.26 L133.10,309.25 L133.32,309.25 L133.53,309.24 L133.74,309.24 L133.95,309.23 L134.17,309.22 L134.38,309.21 L134.59,309.21 L134.81,309.20 L135.02,309.19 L135.23,309.18 L135.45,309.17 L135.66,309.16 L135.87,309.15 L136.09,309.14 L136.30,309.12 L136.51,309.11 L136.72,309.09 L136.94,309.08 L137.15,309.06 L137.36,309.04 L137.58,309.02 L137.79,309.00 L138.00,308.98 L138.22,308.96 L138.43,308.94 L138.64,308.91 L138.86,308.88 L139.07,308.86 L139.28,308.83 L139.50,308.80 L139.71,308.76 L139.92,308.73 L140.13,308.69 L140.35,308.66 L140.56,308.62 L140.77,308.58 L140.99,308.54 L141.20,308.50 L141.41,308.46 L141.63,308.42 L141.84,308.38 L142.05,308.34 L142.27,308.30 L142.48,308.25 L142.69,308.21 L142.90,308.17 L143.12,308.13 L143.33,308.09 L143.54,308.06 L143.76,308.02 L143.97,307.98 L144.18,307.95 L144.40,307.92 L144.61,307.89 L144.82,307.87 L145.04,307.84 L145.25,307.82 L145.46,307.81 L145.67,307.79 L145.89,307.78 L146.10,307.77 L146.31,307.77 L146.53,307.76 L146.74,307.76 L146.95,307.77 L147.17,307.77 L147.38,307.78 L147.59,307.79 L147.81,307.80 L148.02,307.81 L148.23,307.82 L148.45,307.82 L148.66,307.82 L148.87,307.80 L149.08,307.77 L149.30,307.72 L149.51,307.65 L149.72,307.54 L149.94,307.37 L150.15,307.15 L150.36,306.85 L150.58,306.44 L150.79,305.92 L151.00,305.24 L151.22,304.38 L151.43,303.31 L151.64,301.99 L151.85,300.39 L152.07,298.45 L152.28,296.15 L152.49,293.45 L152.71,290.32 L152.92,286.74 L153.13,282.68 L153.35,278.15 L153.56,273.16 L153.77,267.74 L153.99,261.93 L154.20,255.78 L154.41,249.40 L154.63,242.87 L154.84,236.30 L155.05,229.83 L155.26,223.60 L155.48,217.74 L155.69,212.40 L155.90,207.71 L156.12,203.80 L156.33,200.76 L156.54,198.69 L156.76,197.64 L156.97,197.65 L157.18,198.71 L157.40,200.79 L157.61,203.84 L157.82,207.76 L158.03,212.47 L158.25,217.82 L158.46,223.69 L158.67,229.94 L158.89,236.42 L159.10,243.00 L159.31,249.55 L159.53,255.96 L159.74,262.12 L159.95,267.95 L160.17,273.40 L160.38,278.41 L160.59,282.96 L160.81,287.04 L161.02,290.65 L161.23,293.80 L161.44,296.52 L161.66,298.84 L161.87,300.79 L162.08,302.41 L162.30,303.73 L162.51,304.80 L162.72,305.64 L162.94,306.30 L163.15,306.78 L163.36,307.13 L163.58,307.36 L163.79,307.48 L164.00,307.50 L164.21,307.45 L164.43,307.32 L164.64,307.12 L164.85,306.85 L165.07,306.52 L165.28,306.12 L165.49,305.66 L165.71,305.14 L165.92,304.57 L166.13,303.94 L166.35,303.27 L166.56,302.55 L166.77,301.80 L166.98,301.03 L167.20,300.25 L167.41,299.47 L167.62,298.71 L167.84,297.99 L168.05,297.31 L168.26,296.69 L168.48,296.15 L168.69,295.71 L168.90,295.36 L169.12,295.12 L169.33,295.00 L169.54,295.00 L169.76,295.11 L169.97,295.35 L170.18,295.69 L170.39,296.13 L170.61,296.67 L170.82,297.28 L171.03,297.95 L171.25,298.67 L171.46,299.43 L171.67,300.20 L171.89,300.98 L172.10,301.74 L172.31,302.49 L172.53,303.20 L172.74,303.87 L172.95,304.50 L173.16,305.07 L173.38,305.60 L173.59,306.07 L173.80,306.49 L174.02,306.86 L174.23,307.18 L174.44,307.45 L174.66,307.69 L174.87,307.89 L175.08,308.06 L175.30,308.21 L175.51,308.33 L175.72,308.43 L175.94,308.51 L176.15,308.58 L176.36,308.64 L176.57,308.69 L176.79,308.73 L177.00,308.76 L177.21,308.79 L177.43,308.80 L177.64,308.80 L177.85,308.79 L178.07,308.77 L178.28,308.73 L178.49,308.68 L178.71,308.63 L178.92,308.56 L179.13,308.49 L179.34,308.41 L179.56,308.34 L179.77,308.27 L179.98,308.22 L180.20,308.18 L180.41,308.16 L180.62,308.17 L180.84,308.19 L181.05,308.24 L181.26,308.32 L181.48,308.42 L181.69,308.53 L181.90,308.65 L182.12,308.78 L182.33,308.91 L182.54,309.03 L182.75,309.14 L182.97,309.23 L183.18,309.29 L183.39,309.32 L183.61,309.33 L183.82,309.30 L184.03,309.24 L184.25,309.15 L184.46,309.03 L184.67,308.88 L184.89,308.73 L185.10,308.56 L185.31,308.38 L185.52,308.21 L185.74,308.05 L185.95,307.91 L186.16,307.79 L186.38,307.70 L186.59,307.64 L186.80,307.61 L187.02,307.62 L187.23,307.67 L187.44,307.75 L187.66,307.86 L187.87,308.00 L188.08,308.15 L188.29,308.32 L188.51,308.50 L188.72,308.67 L188.93,308.84 L189.15,308.99 L189.36,309.11 L189.57,309.21 L189.79,309.27 L190.00,309.30 L190.21,309.29 L190.43,309.23 L190.64,309.14 L190.85,309.02 L191.07,308.86 L191.28,308.68 L191.49,308.48 L191.70,308.28 L191.92,308.07 L192.13,307.86 L192.34,307.67 L192.56,307.51 L192.77,307.37 L192.98,307.26 L193.20,307.20 L193.41,307.17 L193.62,307.19 L193.84,307.25 L194.05,307.34 L194.26,307.48 L194.47,307.64 L194.69,307.82 L194.90,308.01 L195.11,308.21 L195.33,308.41 L195.54,308.60 L195.75,308.76 L195.97,308.90 L196.18,309.00 L196.39,309.07 L196.61,309.09 L196.82,309.07 L197.03,309.00 L197.25,308.89 L197.46,308.74 L197.67,308.55 L197.88,308.34 L198.10,308.11 L198.31,307.87 L198.52,307.63 L198.74,307.40 L198.95,307.19 L199.16,307.00 L199.38,306.85 L199.59,306.74 L199.80,306.67 L200.02,306.64 L200.23,306.67 L200.44,306.74 L200.65,306.86 L200.87,307.01 L201.08,307.19 L201.29,307.40 L201.51,307.62 L201.72,307.85 L201.93,308.07 L202.15,308.28 L202.36,308.46 L202.57,308.61 L202.79,308.72 L203.00,308.79 L203.21,308.80 L203.43,308.77 L203.64,308.69 L203.85,308.56 L204.06,308.38 L204.28,308.17 L204.49,307.93 L204.70,307.67 L204.92,307.41 L205.13,307.14 L205.34,306.88 L205.56,306.65 L205.77,306.44 L205.98,306.28 L206.20,306.16 L206.41,306.09 L206.62,306.07 L206.83,306.11 L207.05,306.20 L207.26,306.33 L207.47,306.51 L207.69,306.72 L207.90,306.95 L208.11,307.21 L208.33,307.46 L208.54,307.71 L208.75,307.94 L208.97,308.14 L209.18,308.30 L209.39,308.42 L209.60,308.49 L209.82,308.50 L210.03,308.46 L210.24,308.36 L210.46,308.21 L210.67,308.01 L210.88,307.78 L211.10,307.51 L211.31,307.22 L211.52,306.93 L211.74,306.63 L211.95,306.35 L212.16,306.10 L212.38,305.88 L212.59,305.71 L212.80,305.58 L213.01,305.52 L213.23,305.51 L213.44,305.56 L213.65,305.67 L213.87,305.82 L214.08,306.03 L214.29,306.27 L214.51,306.53 L214.72,306.81 L214.93,307.10 L215.15,307.37 L215.36,307.62 L215.57,307.84 L215.78,308.02 L216.00,308.15 L216.21,308.22 L216.42,308.22 L216.64,308.17 L216.85,308.06 L217.06,307.89 L217.28,307.66 L217.49,307.40 L217.70,307.10 L217.92,306.79 L218.13,306.46 L218.34,306.14 L218.56,305.84 L218.77,305.56 L218.98,305.33 L219.19,305.14 L219.41,305.02 L219.62,304.95 L219.83,304.95 L220.05,305.01 L220.26,305.13 L220.47,305.31 L220.69,305.54 L220.90,305.80 L221.11,306.09 L221.33,306.40 L221.54,306.70 L221.75,307.00 L221.96,307.27 L222.18,307.50 L222.39,307.68 L222.60,307.81 L222.82,307.87 L223.03,307.87 L223.24,307.80 L223.46,307.66 L223.67,307.47 L223.88,307.22 L224.10,306.92 L224.31,306.60 L224.52,306.25 L224.74,305.89 L224.95,305.55 L225.16,305.22 L225.37,304.92 L225.59,304.68 L225.80,304.48 L226.01,304.35 L226.23,304.29 L226.44,304.30 L226.65,304.38 L226.87,304.52 L227.08,304.72 L227.29,304.98 L227.51,305.27 L227.72,305.60 L227.93,305.93 L228.14,306.27 L228.36,306.59 L228.57,306.88 L228.78,307.12 L229.00,307.32 L229.21,307.45 L229.42,307.52 L229.64,307.51 L229.85,307.43 L230.06,307.28 L230.28,307.07 L230.49,306.80 L230.70,306.48 L230.91,306.13 L231.13,305.76 L231.34,305.38 L231.55,305.01 L231.77,304.67 L231.98,304.37 L232.19,304.12 L232.41,303.92 L232.62,303.80 L232.83,303.75 L233.05,303.78 L233.26,303.88 L233.47,304.06 L233.69,304.29 L233.90,304.59 L234.11,304.92 L234.32,305.28 L234.54,305.65 L234.75,306.02 L234.96,306.37 L235.18,306.68 L235.39,306.94 L235.60,307.15 L235.82,307.28 L236.03,307.34 L236.24,307.31 L236.46,307.20 L236.67,307.02 L236.88,306.77 L237.09,306.46 L237.31,306.11 L237.52,305.73 L237.73,305.34 L237.95,304.95 L238.16,304.57 L238.37,304.20 L238.59,303.82 L238.80,303.42 L239.01,302.93 L239.23,302.32 L239.44,301.52 L239.65,300.43 L239.87,298.99 L240.08,297.10 L240.29,294.67 L240.50,291.59 L240.72,287.76 L240.93,283.08 L241.14,277.43 L241.36,270.72 L241.57,262.87 L241.78,253.81 L242.00,243.51 L242.21,231.96 L242.42,219.21 L242.64,205.35 L242.85,190.52 L243.06,174.92 L243.27,158.81 L243.49,142.49 L243.70,126.31 L243.91,110.65 L244.13,95.90 L244.34,82.47 L244.55,70.73 L244.77,61.03 L244.98,53.68 L245.19,48.90 L245.41,46.85 L245.62,47.60 L245.83,51.11 L246.05,57.29 L246.26,65.93 L246.47,76.77 L246.68,89.49 L246.90,103.72 L247.11,119.06 L247.32,135.11 L247.54,151.49 L247.75,167.82 L247.96,183.79 L248.18,199.11 L248.39,213.55 L248.60,226.95 L248.82,239.18 L249.03,250.18 L249.24,259.93 L249.45,268.45 L249.67,275.80 L249.88,282.05 L250.09,287.30 L250.31,291.66 L250.52,295.22 L250.73,298.11 L250.95,300.41 L251.16,302.23 L251.37,303.66 L251.59,304.75 L251.80,305.59 L252.01,306.23 L252.22,306.70 L252.44,307.06 L252.65,307.31 L252.86,307.49 L253.08,307.62 L253.29,307.70 L253.50,307.74 L253.72,307.76 L253.93,307.74 L254.14,307.69 L254.36,307.60 L254.57,307.48 L254.78,307.31 L255.00,307.10 L255.21,306.82 L255.42,306.49 L255.63,306.08 L255.85,305.59 L256.06,305.03 L256.27,304.39 L256.49,303.67 L256.70,302.87 L256.91,302.01 L257.13,301.10 L257.34,300.15 L257.55,299.19 L257.77,298.25 L257.98,297.34 L258.19,296.51 L258.40,295.77 L258.62,295.15 L258.83,294.68 L259.04,294.36 L259.26,294.23 L259.47,294.27 L259.68,294.49 L259.90,294.88 L260.11,295.43 L260.32,296.10 L260.54,296.89 L260.75,297.76 L260.96,298.68 L261.18,299.63 L261.39,300.58 L261.60,301.50 L261.81,302.39 L262.03,303.21 L262.24,303.95 L262.45,304.62 L262.67,305.20 L262.88,305.69 L263.09,306.10 L263.31,306.42 L263.52,306.65 L263.73,306.81 L263.95,306.89 L264.16,306.90 L264.37,306.85 L264.58,306.73 L264.80,306.57 L265.01,306.37 L265.22,306.15 L265.44,305.92 L265.65,305.70 L265.86,305.51 L266.08,305.35 L266.29,305.25 L266.50,305.20 L266.72,305.22 L266.93,305.30 L267.14,305.44 L267.36,305.61 L267.57,305.82 L267.78,306.05 L267.99,306.28 L268.21,306.49 L268.42,306.69 L268.63,306.87 L268.85,307.01" stroke="#bc62e2" stroke-width="2.1"/>
</g>
<g clip-path="url(#cb)" fill="none" stroke-width="2.5" stroke-linejoin="round" stroke-linecap="round">
<path d="M318.51,287.63 L318.76,287.57 L319.01,287.52 L319.26,287.47 L319.51,287.42 L319.76,287.39 L320.01,287.35 L320.26,287.33 L320.51,287.31 L320.76,287.30 L321.01,287.30 L321.26,287.31 L321.51,287.33 L321.76,287.35 L322.01,287.39 L322.26,287.42 L322.51,287.46 L322.76,287.50 L323.01,287.53 L323.26,287.56 L323.51,287.59 L323.76,287.61 L324.01,287.62 L324.26,287.63 L324.51,287.61 L324.76,287.56 L325.01,287.51 L325.26,287.44 L325.51,287.36 L325.76,287.27 L326.01,287.19 L326.26,287.11 L326.51,287.04 L326.76,286.97 L327.01,286.91 L327.26,286.84 L327.51,286.75 L327.76,286.65 L328.01,286.53 L328.26,286.29 L328.51,285.90 L328.76,285.44 L329.01,284.99 L329.26,284.61 L329.51,284.39 L329.76,284.37 L330.01,284.44 L330.26,284.56 L330.51,284.74 L330.76,284.95 L331.01,285.19 L331.26,285.44 L331.51,285.82 L331.76,286.41 L332.01,287.07 L332.26,287.67 L332.51,288.08 L332.76,288.14 L333.01,287.64 L333.26,286.66 L333.51,285.41 L333.76,284.10 L334.01,282.91 L334.26,282.04 L334.51,281.27 L334.76,280.49 L335.01,279.79 L335.26,279.25 L335.51,278.94 L335.76,278.93 L336.01,279.13 L336.26,279.47 L336.51,279.89 L336.76,280.34 L337.01,280.75 L337.26,281.08 L337.51,281.35 L337.76,281.63 L338.01,281.88 L338.26,282.07 L338.51,282.17 L338.76,282.02 L339.01,281.42 L339.26,280.48 L339.51,279.37 L339.76,278.22 L340.01,277.20 L340.26,276.16 L340.51,274.97 L340.76,273.75 L341.01,272.60 L341.26,271.62 L341.51,270.93 L341.76,270.56 L342.01,270.27 L342.26,270.02 L342.51,269.81 L342.76,269.62 L343.01,269.46 L343.26,269.33 L343.51,269.21 L343.76,269.11 L344.01,269.01 L344.26,268.92 L344.51,268.83 L344.76,268.75 L345.01,268.68 L345.26,268.62 L345.51,268.58 L345.76,268.55 L346.01,268.54 L346.26,268.71 L346.51,269.10 L346.76,269.65 L347.01,270.29 L347.26,270.95 L347.51,271.57 L347.76,272.08 L348.01,272.55 L348.26,273.01 L348.51,273.47 L348.76,273.93 L349.01,274.41 L349.26,274.92 L349.51,275.46 L349.76,276.06 L350.01,276.76 L350.26,277.65 L350.51,278.64 L350.76,279.62 L351.01,280.53 L351.26,281.26 L351.51,281.73 L351.76,282.12 L352.01,282.48 L352.26,282.82 L352.51,283.12 L352.76,283.38 L353.01,283.58 L353.26,283.73 L353.51,283.80 L353.76,283.79 L354.01,283.63 L354.26,283.35 L354.51,282.96 L354.76,282.50 L355.01,281.99 L355.26,281.46 L355.51,280.92 L355.76,280.41 L356.01,279.95 L356.26,279.56 L356.51,279.25 L356.76,278.91 L357.01,278.58 L357.26,278.28 L357.51,278.03 L357.76,277.87 L358.01,277.81 L358.26,277.86 L358.51,277.96 L358.76,278.12 L359.01,278.32 L359.26,278.55 L359.51,278.79 L359.76,279.07 L360.01,279.53 L360.26,280.11 L360.51,280.74 L360.76,281.35 L361.01,281.85 L361.26,282.18 L361.51,282.39 L361.76,282.59 L362.01,282.78 L362.26,282.95 L362.51,283.12 L362.76,283.27 L363.01,283.40 L363.26,283.52 L363.51,283.62 L363.76,283.70 L364.01,283.76 L364.26,283.80 L364.51,283.81 L364.76,283.79 L365.01,283.74 L365.26,283.67 L365.51,283.58 L365.76,283.49 L366.01,283.40 L366.26,283.33 L366.51,283.28 L366.76,283.27 L367.01,283.28 L367.26,283.33 L367.51,283.39 L367.76,283.47 L368.01,283.57 L368.26,283.68 L368.51,283.79 L368.76,283.90 L369.01,284.02 L369.26,284.13 L369.51,284.24 L369.76,284.34 L370.01,284.42 L370.26,284.51 L370.51,284.59 L370.76,284.67 L371.01,284.76 L371.26,284.84 L371.51,284.92 L371.76,285.01 L372.01,285.09 L372.26,285.17 L372.51,285.25 L372.76,285.34 L373.01,285.42 L373.26,285.50 L373.51,285.60 L373.76,285.69 L374.01,285.79 L374.26,285.90 L374.51,286.00 L374.76,286.10 L375.01,286.19 L375.26,286.28 L375.51,286.36 L375.76,286.43 L376.01,286.48 L376.26,286.52 L376.51,286.55 L376.76,286.58 L377.01,286.60 L377.26,286.62 L377.51,286.64 L377.76,286.66 L378.01,286.67 L378.26,286.69 L378.51,286.70 L378.76,286.71 L379.01,286.73 L379.26,286.74 L379.51,286.75 L379.76,286.76 L380.01,286.77 L380.26,286.78 L380.51,286.79 L380.76,286.81 L381.01,286.82 L381.26,286.83 L381.51,286.85 L381.76,286.86 L382.01,286.88 L382.26,286.89 L382.51,286.91 L382.76,286.92 L383.01,286.94 L383.26,286.95 L383.51,286.97 L383.76,286.98 L384.01,287.00 L384.26,287.01 L384.51,287.03 L384.76,287.04 L385.01,287.06 L385.26,287.07 L385.51,287.09 L385.76,287.10 L386.01,287.12 L386.26,287.14 L386.51,287.15 L386.76,287.17 L387.01,287.19 L387.26,287.21 L387.51,287.23 L387.76,287.25 L388.01,287.27 L388.26,287.29 L388.51,287.31 L388.76,287.34 L389.01,287.36 L389.26,287.38 L389.51,287.41 L389.76,287.43 L390.01,287.45 L390.26,287.48 L390.51,287.51 L390.76,287.53 L391.01,287.56 L391.26,287.59 L391.51,287.62 L391.76,287.65 L392.01,287.68 L392.26,287.72 L392.51,287.75 L392.76,287.79 L393.01,287.83 L393.26,287.86 L393.51,287.91 L393.76,287.95 L394.01,287.99 L394.26,288.04 L394.51,288.09 L394.76,288.14 L395.01,288.20 L395.26,288.26 L395.51,288.34 L395.76,288.43 L396.01,288.53 L396.26,288.64 L396.51,288.75 L396.76,288.86 L397.01,288.98 L397.26,289.10 L397.51,289.21 L397.76,289.33 L398.01,289.46 L398.26,289.61 L398.51,289.76 L398.76,289.93 L399.01,290.10 L399.26,290.26 L399.51,290.42 L399.76,290.56 L400.01,290.68 L400.26,290.78 L400.51,290.85 L400.76,290.89 L401.01,290.89 L401.26,290.85 L401.51,290.76 L401.76,290.64 L402.01,290.48 L402.26,290.31 L402.51,290.12 L402.76,289.92 L403.01,289.72 L403.26,289.53 L403.51,289.34 L403.76,289.17 L404.01,289.00 L404.26,288.83 L404.51,288.65 L404.76,288.46 L405.01,288.27 L405.26,288.08 L405.51,287.88 L405.76,287.67 L406.01,287.45 L406.26,287.23 L406.51,286.99 L406.76,286.75 L407.01,286.50 L407.26,286.25 L407.51,285.98 L407.76,285.70 L408.01,285.42 L408.26,285.12 L408.51,284.80 L408.76,284.47 L409.01,284.12 L409.26,283.77 L409.51,283.40 L409.76,283.04 L410.01,282.66 L410.26,282.29 L410.51,281.93 L410.76,281.56 L411.01,281.14 L411.26,280.67 L411.51,280.17 L411.76,279.68 L412.01,279.23 L412.26,278.84 L412.51,278.55 L412.76,278.38 L413.01,278.36 L413.26,278.36 L413.51,278.36 L413.76,278.36 L414.01,278.36 L414.26,278.71 L414.51,279.48 L414.76,280.45 L415.01,281.41 L415.26,282.30 L415.51,283.33 L415.76,284.34 L416.01,285.14 L416.26,285.58 L416.51,285.91 L416.76,286.20 L417.01,286.47 L417.26,286.69 L417.51,286.87 L417.76,286.99 L418.01,287.07 L418.26,287.08 L418.51,287.03 L418.76,286.92 L419.01,286.77 L419.26,286.59 L419.51,286.38 L419.76,286.17 L420.01,285.97 L420.26,285.78 L420.51,285.62 L420.76,285.50 L421.01,285.42 L421.26,285.36 L421.51,285.31 L421.76,285.27 L422.01,285.24 L422.26,285.21 L422.51,285.17 L422.76,285.14 L423.01,285.11 L423.26,285.08 L423.51,285.04 L423.76,285.00 L424.01,284.94 L424.26,284.88 L424.51,284.77 L424.76,284.63 L425.01,284.47 L425.26,284.29 L425.51,284.13 L425.76,283.98 L426.01,283.87 L426.26,283.82 L426.51,283.82 L426.76,283.86 L427.01,283.93 L427.26,284.01 L427.51,284.10 L427.76,284.20 L428.01,284.27 L428.26,284.33 L428.51,284.36 L428.76,284.35 L429.01,284.35 L429.26,284.35 L429.51,284.34 L429.76,284.33 L430.01,284.31 L430.26,284.30 L430.51,284.28 L430.76,284.27 L431.01,284.25 L431.26,284.23 L431.51,284.21 L431.76,284.19 L432.01,284.17 L432.26,284.14 L432.51,284.12 L432.76,284.10 L433.01,284.07 L433.26,284.05 L433.51,284.03 L433.76,284.00 L434.01,283.98 L434.26,283.96 L434.51,283.94 L434.76,283.92 L435.01,283.90 L435.26,283.88 L435.51,283.87 L435.76,283.85 L436.01,283.84 L436.26,283.83 L436.51,283.82 L436.76,283.82 L437.01,283.81 L437.26,283.81 L437.51,283.81 L437.76,283.81 L438.01,283.81 L438.26,283.81 L438.51,283.81 L438.76,283.81 L439.01,283.81 L439.26,283.81 L439.51,283.81 L439.76,283.81 L440.01,283.81 L440.26,283.81 L440.51,283.81 L440.76,283.81 L441.01,283.81 L441.26,283.81 L441.51,283.81 L441.76,283.81 L442.01,283.81 L442.26,283.81 L442.51,283.81 L442.76,283.81 L443.01,283.81 L443.26,283.81 L443.51,283.81 L443.76,283.81 L444.01,283.81 L444.26,283.81 L444.51,283.81 L444.76,283.81 L445.01,283.81 L445.26,283.81 L445.51,283.81 L445.76,283.81 L446.01,283.81 L446.26,283.81 L446.51,283.81 L446.76,283.81 L447.01,283.81 L447.26,283.81 L447.51,283.81 L447.76,283.81 L448.01,283.81 L448.26,283.81 L448.51,283.81 L448.76,283.81 L449.01,283.81 L449.26,283.81 L449.51,283.81 L449.76,283.80 L450.01,283.80 L450.26,283.80 L450.51,283.80 L450.76,283.79 L451.01,283.79 L451.26,283.78 L451.51,283.78 L451.76,283.77 L452.01,283.77 L452.26,283.76 L452.51,283.75 L452.76,283.75 L453.01,283.74 L453.26,283.73 L453.51,283.72 L453.76,283.71 L454.01,283.70 L454.26,283.68 L454.51,283.67 L454.76,283.66 L455.01,283.64 L455.26,283.63 L455.51,283.61 L455.76,283.59 L456.01,283.58 L456.26,283.56 L456.51,283.54 L456.76,283.51 L457.01,283.49 L457.26,283.47 L457.51,283.44 L457.76,283.42 L458.01,283.39 L458.26,283.36 L458.51,283.34 L458.76,283.31 L459.01,283.27 L459.26,283.14 L459.51,282.76 L459.76,282.36 L460.01,282.17 L460.26,282.17 L460.51,282.17 L460.76,282.17 L461.01,282.17 L461.26,282.17 L461.51,282.17 L461.76,282.17 L462.01,282.17 L462.26,282.18 L462.51,282.19 L462.76,282.23 L463.01,282.29 L463.26,282.36 L463.51,282.45 L463.76,282.55 L464.01,282.65 L464.26,282.76 L464.51,282.87 L464.76,282.98 L465.01,283.09 L465.26,283.19 L465.51,283.28 L465.76,283.39 L466.01,283.51 L466.26,283.64 L466.51,283.77 L466.76,283.90 L467.01,284.03 L467.26,284.14 L467.51,284.23 L467.76,284.31 L468.01,284.35 L468.26,284.35 L468.51,284.34 L468.76,284.32 L469.01,284.29 L469.26,284.25 L469.51,284.20 L469.76,284.14 L470.01,284.08 L470.26,284.01 L470.51,283.93 L470.76,283.86 L471.01,283.77 L471.26,283.66 L471.51,283.50 L471.76,283.32 L472.01,283.12 L472.26,282.89 L472.51,282.66 L472.76,282.42 L473.01,282.18 L473.26,281.95 L473.51,281.73 L473.76,281.52 L474.01,281.28 L474.26,281.01 L474.51,280.76 L474.76,280.54 L475.01,280.38 L475.26,280.32 L475.51,280.36 L475.76,280.49 L476.01,280.67 L476.26,280.88 L476.51,281.11 L476.76,281.32 L477.01,281.49 L477.26,281.60 L477.51,281.63 L477.76,281.58 L478.01,281.49 L478.26,281.36 L478.51,281.21 L478.76,281.06 L479.01,280.93 L479.26,280.82 L479.51,280.76 L479.76,280.77 L480.01,280.87 L480.26,281.04 L480.51,281.26 L480.76,281.50 L481.01,281.74 L481.26,281.95 L481.51,282.10 L481.76,282.17 L482.01,282.17 L482.26,282.17 L482.51,282.17 L482.76,282.17 L483.01,282.17 L483.26,282.17 L483.51,282.17 L483.76,282.17 L484.01,282.17 L484.26,282.17 L484.51,282.17 L484.76,282.19 L485.01,282.22 L485.26,282.28 L485.51,282.36 L485.76,282.44 L486.01,282.52 L486.26,282.60 L486.51,282.67 L486.76,282.73 L487.01,282.77 L487.26,282.82 L487.51,282.87 L487.76,282.92 L488.01,282.97 L488.26,283.02 L488.51,283.06 L488.76,283.10 L489.01,283.14 L489.26,283.18 L489.51,283.21 L489.76,283.23 L490.01,283.25 L490.26,283.26 L490.51,283.26 L490.76,283.26 L491.01,283.26 L491.26,283.25 L491.51,283.23 L491.76,283.22 L492.01,283.20 L492.26,283.17 L492.51,283.14 L492.76,283.11 L493.01,283.08 L493.26,283.04 L493.51,283.00 L493.76,282.95 L494.01,282.91 L494.26,282.86 L494.51,282.81 L494.76,282.75 L495.01,282.69 L495.26,282.59 L495.51,282.45 L495.76,282.28 L496.01,282.07 L496.26,281.83 L496.51,281.55 L496.76,281.26 L497.01,280.94 L497.26,280.60 L497.51,280.24 L497.76,279.87 L498.01,279.48 L498.26,279.09 L498.51,278.69 L498.76,278.29 L499.01,277.76 L499.26,277.11 L499.51,276.40 L499.76,275.71 L500.01,275.10 L500.26,274.65 L500.51,274.38 L500.76,274.13 L501.01,273.91 L501.26,273.72 L501.51,273.57 L501.76,273.48 L502.01,273.45 L502.26,273.52 L502.51,273.68 L502.76,273.92 L503.01,274.22 L503.26,274.56 L503.51,274.92 L503.76,275.31 L504.01,275.84 L504.26,276.49 L504.51,277.22 L504.76,277.99 L505.01,278.74 L505.26,279.45 L505.51,280.17 L505.76,280.97 L506.01,281.78 L506.26,282.54 L506.51,283.19 L506.76,283.65 L507.01,283.91 L507.26,284.11 L507.51,284.30 L507.76,284.46 L508.01,284.61 L508.26,284.72 L508.51,284.81 L508.76,284.87 L509.01,284.90 L509.26,284.90 L509.51,284.90 L509.76,284.90 L510.01,284.90 L510.26,284.90 L510.51,284.90 L510.76,284.90 L511.01,284.90 L511.26,284.90 L511.51,284.90 L511.76,284.90 L512.01,284.90 L512.26,284.90 L512.51,284.90 L512.76,284.90 L513.01,284.90 L513.26,284.91 L513.51,284.93 L513.76,284.95 L514.01,284.99 L514.26,285.02 L514.51,285.07 L514.76,285.12 L515.01,285.17 L515.26,285.23 L515.51,285.29 L515.76,285.35 L516.01,285.41 L516.26,285.47 L516.51,285.54 L516.76,285.63 L517.01,285.73 L517.26,285.83 L517.51,285.95 L517.76,286.07 L518.01,286.19 L518.26,286.32 L518.51,286.44 L518.76,286.56 L519.01,286.68 L519.26,286.79 L519.51,286.89 L519.76,286.99 L520.01,287.11 L520.26,287.23 L520.51,287.34 L520.76,287.44 L521.01,287.53 L521.26,287.59 L521.51,287.62 L521.76,287.63 L522.01,287.63 L522.26,287.63 L522.51,287.63 L522.76,287.63 L523.01,287.63 L523.26,287.63 L523.51,287.63 L523.76,287.63 L524.01,287.63 L524.26,287.63 L524.51,287.63 L524.76,287.63 L525.01,287.63 L525.26,287.63 L525.51,287.63" stroke="#646464"/>
<path d="M318.51,286.54 L318.76,286.32 L319.01,286.11 L319.26,285.90 L319.51,285.71 L319.76,285.53 L320.01,285.38 L320.26,285.26 L320.51,285.18 L320.76,285.13 L321.01,285.12 L321.26,285.12 L321.51,285.12 L321.76,285.12 L322.01,285.12 L322.26,285.12 L322.51,285.12 L322.76,285.12 L323.01,285.12 L323.26,285.12 L323.51,285.12 L323.76,285.13 L324.01,285.21 L324.26,285.35 L324.51,285.55 L324.76,285.79 L325.01,286.06 L325.26,286.35 L325.51,286.66 L325.76,286.96 L326.01,287.26 L326.26,287.53 L326.51,287.77 L326.76,288.03 L327.01,288.29 L327.26,288.56 L327.51,288.83 L327.76,289.10 L328.01,289.36 L328.26,289.62 L328.51,289.86 L328.76,290.09 L329.01,290.29 L329.26,290.49 L329.51,290.68 L329.76,290.89 L330.01,291.09 L330.26,291.29 L330.51,291.49 L330.76,291.67 L331.01,291.84 L331.26,291.99 L331.51,292.11 L331.76,292.21 L332.01,292.28 L332.26,292.31 L332.51,292.31 L332.76,292.27 L333.01,292.21 L333.26,292.11 L333.51,291.99 L333.76,291.85 L334.01,291.70 L334.26,291.53 L334.51,291.34 L334.76,291.15 L335.01,290.96 L335.26,290.74 L335.51,290.47 L335.76,290.13 L336.01,289.76 L336.26,289.35 L336.51,288.92 L336.76,288.49 L337.01,288.05 L337.26,287.64 L337.51,287.23 L337.76,286.81 L338.01,286.39 L338.26,285.96 L338.51,285.52 L338.76,285.07 L339.01,284.62 L339.26,284.16 L339.51,283.69 L339.76,283.22 L340.01,282.73 L340.26,282.23 L340.51,281.72 L340.76,281.21 L341.01,280.70 L341.26,280.19 L341.51,279.69 L341.76,279.17 L342.01,278.58 L342.26,277.93 L342.51,277.26 L342.76,276.62 L343.01,276.04 L343.26,275.57 L343.51,275.24 L343.76,275.09 L344.01,275.10 L344.26,275.13 L344.51,275.20 L344.76,275.29 L345.01,275.40 L345.26,275.53 L345.51,275.68 L345.76,276.10 L346.01,276.79 L346.26,277.62 L346.51,278.49 L346.76,279.28 L347.01,279.88 L347.26,280.25 L347.51,280.61 L347.76,280.94 L348.01,281.23 L348.26,281.45 L348.51,281.59 L348.76,281.63 L349.01,281.60 L349.26,281.55 L349.51,281.47 L349.76,281.38 L350.01,281.29 L350.26,281.20 L350.51,281.14 L350.76,281.09 L351.01,281.11 L351.26,281.40 L351.51,281.91 L351.76,282.59 L352.01,283.34 L352.26,284.08 L352.51,284.74 L352.76,285.22 L353.01,285.44 L353.26,285.40 L353.51,285.26 L353.76,285.03 L354.01,284.66 L354.26,284.16 L354.51,283.49 L354.76,282.63 L355.01,281.57 L355.26,280.30 L355.51,278.82 L355.76,277.14 L356.01,275.29 L356.26,273.31 L356.51,271.25 L356.76,269.17 L357.01,267.15 L357.26,265.27 L357.51,263.60 L357.76,262.24 L358.01,261.23 L358.26,260.64 L358.51,260.50 L358.76,260.81 L359.01,261.57 L359.26,262.74 L359.51,264.27 L359.76,266.09 L360.01,268.13 L360.26,270.30 L360.51,272.53 L360.76,274.73 L361.01,276.86 L361.26,278.85 L361.51,280.67 L361.76,282.28 L362.01,283.69 L362.26,284.90 L362.51,285.90 L362.76,286.71 L363.01,287.35 L363.26,287.75 L363.51,287.95 L363.76,288.00 L364.01,287.94 L364.26,287.84 L364.51,287.72 L364.76,287.64 L365.01,287.63 L365.26,287.62 L365.51,287.62 L365.76,287.67 L366.01,287.86 L366.26,288.16 L366.51,288.52 L366.76,288.88 L367.01,289.18 L367.26,289.43 L367.51,289.67 L367.76,289.80 L368.01,289.46 L368.26,288.43 L368.51,287.25 L368.76,286.47 L369.01,285.97 L369.26,285.51 L369.51,285.09 L369.76,284.74 L370.01,284.50 L370.26,284.37 L370.51,284.36 L370.76,284.36 L371.01,284.36 L371.26,284.36 L371.51,284.36 L371.76,284.36 L372.01,284.36 L372.26,284.36 L372.51,284.36 L372.76,284.40 L373.01,284.53 L373.26,284.75 L373.51,285.02 L373.76,285.33 L374.01,285.66 L374.26,285.99 L374.51,286.30 L374.76,286.57 L375.01,286.85 L375.26,287.17 L375.51,287.50 L375.76,287.83 L376.01,288.13 L376.26,288.39 L376.51,288.59 L376.76,288.70 L377.01,288.71 L377.26,288.62 L377.51,288.45 L377.76,288.24 L378.01,288.00 L378.26,287.76 L378.51,287.55 L378.76,287.39 L379.01,287.31 L379.26,287.31 L379.51,287.34 L379.76,287.40 L380.01,287.47 L380.26,287.56 L380.51,287.65 L380.76,287.74 L381.01,287.82 L381.26,287.88 L381.51,287.93 L381.76,287.95 L382.01,287.95 L382.26,287.94 L382.51,287.92 L382.76,287.89 L383.01,287.86 L383.26,287.82 L383.51,287.78 L383.76,287.74 L384.01,287.71 L384.26,287.68 L384.51,287.65 L384.76,287.64 L385.01,287.63 L385.26,287.63 L385.51,287.65 L385.76,287.69 L386.01,287.73 L386.26,287.79 L386.51,287.85 L386.76,287.91 L387.01,287.97 L387.26,288.03 L387.51,288.08 L387.76,288.12 L388.01,288.16 L388.26,288.17 L388.51,288.16 L388.76,288.10 L389.01,288.00 L389.26,287.87 L389.51,287.71 L389.76,287.53 L390.01,287.34 L390.26,287.16 L390.51,286.98 L390.76,286.82 L391.01,286.69 L391.26,286.59 L391.51,286.54 L391.76,286.54 L392.01,286.58 L392.26,286.64 L392.51,286.73 L392.76,286.84 L393.01,286.96 L393.26,287.08 L393.51,287.20 L393.76,287.32 L394.01,287.43 L394.26,287.52 L394.51,287.58 L394.76,287.62 L395.01,287.62 L395.26,287.52 L395.51,287.35 L395.76,287.11 L396.01,286.84 L396.26,286.54 L396.51,286.24 L396.76,285.97 L397.01,285.73 L397.26,285.55 L397.51,285.46 L397.76,285.47 L398.01,285.60 L398.26,285.84 L398.51,286.14 L398.76,286.49 L399.01,286.84 L399.26,287.16 L399.51,287.43 L399.76,287.61 L400.01,287.71 L400.26,287.80 L400.51,287.89 L400.76,287.97 L401.01,288.04 L401.26,288.10 L401.51,288.14 L401.76,288.16 L402.01,288.17 L402.26,287.83 L402.51,287.03 L402.76,285.96 L403.01,284.81 L403.26,283.74 L403.51,282.94 L403.76,282.52 L404.01,282.17 L404.26,281.88 L404.51,281.68 L404.76,281.64 L405.01,281.93 L405.26,282.50 L405.51,283.16 L405.76,283.73 L406.01,284.15 L406.26,284.55 L406.51,284.92 L406.76,285.22 L407.01,285.41 L407.26,285.47 L407.51,285.48 L407.76,285.42 L408.01,285.28 L408.26,285.04 L408.51,284.66 L408.76,284.12 L409.01,283.37 L409.26,282.39 L409.51,281.13 L409.76,279.56 L410.01,277.67 L410.26,275.42 L410.51,272.83 L410.76,269.91 L411.01,266.71 L411.26,263.29 L411.51,259.74 L411.76,256.17 L412.01,252.69 L412.26,249.46 L412.51,246.59 L412.76,244.22 L413.01,242.47 L413.26,241.41 L413.51,241.10 L413.76,241.56 L414.01,242.78 L414.26,244.68 L414.51,247.19 L414.76,250.20 L415.01,253.57 L415.26,257.16 L415.51,260.86 L415.76,264.52 L416.01,268.05 L416.26,271.36 L416.51,274.38 L416.76,277.07 L417.01,279.41 L417.26,281.41 L417.51,283.08 L417.76,284.42 L418.01,285.35 L418.26,285.91 L418.51,286.16 L418.76,286.17 L419.01,285.98 L419.26,285.66 L419.51,285.25 L419.76,284.80 L420.01,284.34 L420.26,283.93 L420.51,283.59 L420.76,283.35 L421.01,283.23 L421.26,283.15 L421.51,283.09 L421.76,283.04 L422.01,283.00 L422.26,282.95 L422.51,282.90 L422.76,282.84 L423.01,282.75 L423.26,282.62 L423.51,282.39 L423.76,282.09 L424.01,281.75 L424.26,281.40 L424.51,281.08 L424.76,280.80 L425.01,280.61 L425.26,280.54 L425.51,280.54 L425.76,280.54 L426.01,280.54 L426.26,280.54 L426.51,280.60 L426.76,280.95 L427.01,281.52 L427.26,282.19 L427.51,282.87 L427.76,283.45 L428.01,283.82 L428.26,284.07 L428.51,284.31 L428.76,284.52 L429.01,284.69 L429.26,284.82 L429.51,284.89 L429.76,284.89 L430.01,284.82 L430.26,284.69 L430.51,284.51 L430.76,284.30 L431.01,284.07 L431.26,283.82 L431.51,283.57 L431.76,283.33 L432.01,283.12 L432.26,282.94 L432.51,282.81 L432.76,282.73 L433.01,282.72 L433.26,282.72 L433.51,282.72 L433.76,282.72 L434.01,282.72 L434.26,282.72 L434.51,282.72 L434.76,282.72 L435.01,282.72 L435.26,282.72 L435.51,282.72 L435.76,282.72 L436.01,282.72 L436.26,282.72 L436.51,282.68 L436.76,282.62 L437.01,282.52 L437.26,282.41 L437.51,282.28 L437.76,282.15 L438.01,282.01 L438.26,281.88 L438.51,281.77 L438.76,281.67 L439.01,281.60 L439.26,281.53 L439.51,281.46 L439.76,281.39 L440.01,281.33 L440.26,281.27 L440.51,281.21 L440.76,281.16 L441.01,281.13 L441.26,281.10 L441.51,281.09 L441.76,281.09 L442.01,281.15 L442.26,281.25 L442.51,281.39 L442.76,281.55 L443.01,281.71 L443.26,281.88 L443.51,282.03 L443.76,282.15 L444.01,282.26 L444.26,282.37 L444.51,282.48 L444.76,282.59 L445.01,282.70 L445.26,282.81 L445.51,282.91 L445.76,283.00 L446.01,283.09 L446.26,283.16 L446.51,283.21 L446.76,283.25 L447.01,283.26 L447.26,283.26 L447.51,283.22 L447.76,283.17 L448.01,283.09 L448.26,283.00 L448.51,282.90 L448.76,282.79 L449.01,282.68 L449.26,282.57 L449.51,282.46 L449.76,282.36 L450.01,282.27 L450.26,282.20 L450.51,282.14 L450.76,282.08 L451.01,282.02 L451.26,281.97 L451.51,281.91 L451.76,281.86 L452.01,281.81 L452.26,281.76 L452.51,281.72 L452.76,281.69 L453.01,281.66 L453.26,281.64 L453.51,281.63 L453.76,281.63 L454.01,281.67 L454.26,281.73 L454.51,281.82 L454.76,281.93 L455.01,282.06 L455.26,282.21 L455.51,282.36 L455.76,282.53 L456.01,282.69 L456.26,282.86 L456.51,283.03 L456.76,283.18 L457.01,283.33 L457.26,283.50 L457.51,283.67 L457.76,283.86 L458.01,284.06 L458.26,284.26 L458.51,284.45 L458.76,284.65 L459.01,284.84 L459.26,285.01 L459.51,285.18 L459.76,285.32 L460.01,285.45 L460.26,285.56 L460.51,285.65 L460.76,285.74 L461.01,285.82 L461.26,285.90 L461.51,285.98 L461.76,286.05 L462.01,286.12 L462.26,286.19 L462.51,286.27 L462.76,286.35 L463.01,286.44 L463.26,286.53 L463.51,286.64 L463.76,286.77 L464.01,286.92 L464.26,287.08 L464.51,287.25 L464.76,287.42 L465.01,287.58 L465.26,287.73 L465.51,287.87 L465.76,287.99 L466.01,288.08 L466.26,288.15 L466.51,288.17 L466.76,288.16 L467.01,288.13 L467.26,288.07 L467.51,288.00 L467.76,287.91 L468.01,287.82 L468.26,287.71 L468.51,287.60 L468.76,287.49 L469.01,287.38 L469.26,287.28 L469.51,287.18 L469.76,287.10 L470.01,287.02 L470.26,286.94 L470.51,286.86 L470.76,286.78 L471.01,286.70 L471.26,286.64 L471.51,286.58 L471.76,286.55 L472.01,286.54 L472.26,286.64 L472.51,286.88 L472.76,287.20 L473.01,287.55 L473.26,287.87 L473.51,288.11 L473.76,288.21 L474.01,288.29 L474.26,288.35 L474.51,288.41 L474.76,288.46 L475.01,288.50 L475.26,288.54 L475.51,288.58 L475.76,288.61 L476.01,288.65 L476.26,288.70 L476.51,288.75 L476.76,288.81 L477.01,288.87 L477.26,288.94 L477.51,289.00 L477.76,289.07 L478.01,289.13 L478.26,289.18 L478.51,289.22 L478.76,289.25 L479.01,289.26 L479.26,289.25 L479.51,289.21 L479.76,289.13 L480.01,289.02 L480.26,288.90 L480.51,288.77 L480.76,288.63 L481.01,288.50 L481.26,288.37 L481.51,288.27 L481.76,288.19 L482.01,288.13 L482.26,288.08 L482.51,288.04 L482.76,288.00 L483.01,287.97 L483.26,287.93 L483.51,287.90 L483.76,287.87 L484.01,287.84 L484.26,287.80 L484.51,287.76 L484.76,287.71 L485.01,287.65 L485.26,287.57 L485.51,287.48 L485.76,287.36 L486.01,287.23 L486.26,287.08 L486.51,286.91 L486.76,286.73 L487.01,286.54 L487.26,286.35 L487.51,286.14 L487.76,285.94 L488.01,285.73 L488.26,285.53 L488.51,285.32 L488.76,285.09 L489.01,284.85 L489.26,284.60 L489.51,284.34 L489.76,284.08 L490.01,283.81 L490.26,283.55 L490.51,283.29 L490.76,283.02 L491.01,282.70 L491.26,282.37 L491.51,282.06 L491.76,281.81 L492.01,281.66 L492.26,281.64 L492.51,281.77 L492.76,282.01 L493.01,282.31 L493.26,282.65 L493.51,282.97 L493.76,283.22 L494.01,283.41 L494.26,283.56 L494.51,283.70 L494.76,283.81 L495.01,283.93 L495.26,284.03 L495.51,284.14 L495.76,284.25 L496.01,284.36 L496.26,284.53 L496.51,284.74 L496.76,284.95 L497.01,285.11 L497.26,285.14 L497.51,285.00 L497.76,284.61 L498.01,283.91 L498.26,282.85 L498.51,281.53 L498.76,279.95 L499.01,278.11 L499.26,276.02 L499.51,273.69 L499.76,271.16 L500.01,268.46 L500.26,265.67 L500.51,262.87 L500.76,260.14 L501.01,257.58 L501.26,255.30 L501.51,253.39 L501.76,251.92 L502.01,250.97 L502.26,250.58 L502.51,250.77 L502.76,251.53 L503.01,252.82 L503.26,254.59 L503.51,256.75 L503.76,259.22 L504.01,261.91 L504.26,264.70 L504.51,267.51 L504.76,270.25 L505.01,272.85 L505.26,275.27 L505.51,277.45 L505.76,279.39 L506.01,281.07 L506.26,282.49 L506.51,283.68 L506.76,284.65 L507.01,285.48 L507.26,286.17 L507.51,286.76 L507.76,287.24 L508.01,287.63 L508.26,287.94 L508.51,288.16 L508.76,288.31 L509.01,288.44 L509.26,288.54 L509.51,288.62 L509.76,288.67 L510.01,288.71 L510.26,288.72 L510.51,288.69 L510.76,288.61 L511.01,288.51 L511.26,288.37 L511.51,288.22 L511.76,288.05 L512.01,287.87 L512.26,287.70 L512.51,287.51 L512.76,287.26 L513.01,286.95 L513.26,286.59 L513.51,286.21 L513.76,285.81 L514.01,285.41 L514.26,285.03 L514.51,284.67 L514.76,284.36 L515.01,284.10 L515.26,283.92 L515.51,283.82 L515.76,283.82 L516.01,283.92 L516.26,284.08 L516.51,284.30 L516.76,284.54 L517.01,284.80 L517.26,285.05 L517.51,285.26 L517.76,285.42 L518.01,285.54 L518.26,285.65 L518.51,285.76 L518.76,285.86 L519.01,285.93 L519.26,285.98 L519.51,285.99 L519.76,285.95 L520.01,285.87 L520.26,285.75 L520.51,285.60 L520.76,285.42 L521.01,285.23 L521.26,285.03 L521.51,284.84 L521.76,284.64 L522.01,284.46 L522.26,284.30 L522.51,284.15 L522.76,283.99 L523.01,283.83 L523.26,283.67 L523.51,283.51 L523.76,283.35 L524.01,283.19 L524.26,283.03 L524.51,282.87 L524.76,282.70 L525.01,282.54 L525.26,282.37 L525.51,282.20" stroke="#f83030"/>
<path d="M318.51,289.04 L318.76,288.68 L319.01,288.34 L319.26,288.04 L319.51,287.78 L319.76,287.56 L320.01,287.38 L320.26,287.24 L320.51,287.14 L320.76,287.09 L321.01,287.09 L321.26,287.13 L321.51,287.23 L321.76,287.36 L322.01,287.53 L322.26,287.72 L322.51,287.94 L322.76,288.18 L323.01,288.42 L323.26,288.67 L323.51,288.92 L323.76,289.17 L324.01,289.48 L324.26,289.85 L324.51,290.25 L324.76,290.68 L325.01,291.12 L325.26,291.56 L325.51,291.98 L325.76,292.37 L326.01,292.71 L326.26,292.99 L326.51,293.20 L326.76,293.39 L327.01,293.55 L327.26,293.70 L327.51,293.83 L327.76,293.96 L328.01,294.08 L328.26,294.21 L328.51,294.35 L328.76,294.50 L329.01,294.66 L329.26,294.85 L329.51,295.09 L329.76,295.36 L330.01,295.65 L330.26,295.96 L330.51,296.27 L330.76,296.58 L331.01,296.88 L331.26,297.14 L331.51,297.38 L331.76,297.56 L332.01,297.70 L332.26,297.76 L332.51,297.74 L332.76,297.59 L333.01,297.33 L333.26,296.99 L333.51,296.61 L333.76,296.22 L334.01,295.85 L334.26,295.52 L334.51,295.28 L334.76,295.11 L335.01,294.96 L335.26,294.82 L335.51,294.69 L335.76,294.56 L336.01,294.45 L336.26,294.35 L336.51,294.25 L336.76,294.16 L337.01,294.08 L337.26,294.03 L337.51,293.98 L337.76,293.93 L338.01,293.87 L338.26,293.78 L338.51,293.66 L338.76,293.15 L339.01,291.58 L339.26,289.43 L339.51,287.20 L339.76,285.32 L340.01,283.41 L340.26,281.43 L340.51,279.53 L340.76,277.83 L341.01,276.49 L341.26,275.51 L341.51,274.66 L341.76,273.90 L342.01,273.23 L342.26,272.65 L342.51,272.16 L342.76,271.75 L343.01,271.38 L343.26,271.02 L343.51,270.67 L343.76,270.35 L344.01,270.07 L344.26,269.82 L344.51,269.63 L344.76,269.49 L345.01,269.42 L345.26,269.44 L345.51,269.63 L345.76,269.94 L346.01,270.35 L346.26,270.83 L346.51,271.33 L346.76,271.81 L347.01,272.25 L347.26,272.62 L347.51,272.97 L347.76,273.31 L348.01,273.65 L348.26,273.99 L348.51,274.35 L348.76,274.74 L349.01,275.16 L349.26,275.63 L349.51,276.15 L349.76,276.72 L350.01,277.36 L350.26,278.04 L350.51,278.78 L350.76,279.55 L351.01,280.40 L351.26,281.57 L351.51,282.96 L351.76,284.38 L352.01,285.64 L352.26,286.55 L352.51,286.91 L352.76,286.51 L353.01,285.53 L353.26,284.21 L353.51,282.47 L353.76,280.27 L354.01,277.52 L354.26,274.17 L354.51,270.15 L354.76,265.45 L355.01,260.03 L355.26,253.91 L355.51,247.15 L355.76,239.82 L356.01,232.04 L356.26,223.99 L356.51,215.84 L356.76,207.84 L357.01,200.23 L357.26,193.25 L357.51,187.16 L357.76,182.18 L358.01,178.50 L358.26,176.27 L358.51,175.59 L358.76,176.48 L359.01,178.91 L359.26,182.79 L359.51,187.97 L359.76,194.24 L360.01,201.40 L360.26,209.17 L360.51,217.33 L360.76,225.61 L361.01,233.80 L361.26,241.70 L361.51,249.15 L361.76,256.04 L362.01,262.27 L362.26,267.81 L362.51,272.65 L362.76,276.79 L363.01,280.28 L363.26,283.16 L363.51,285.48 L363.76,286.72 L364.01,286.98 L364.26,286.63 L364.51,286.03 L364.76,285.54 L365.01,285.46 L365.26,285.48 L365.51,285.48 L365.76,285.37 L366.01,285.17 L366.26,284.98 L366.51,284.90 L366.76,285.09 L367.01,285.60 L367.26,286.23 L367.51,286.79 L367.76,287.07 L368.01,287.01 L368.26,286.75 L368.51,286.34 L368.76,285.82 L369.01,285.23 L369.26,284.60 L369.51,283.97 L369.76,283.39 L370.01,282.81 L370.26,282.09 L370.51,281.31 L370.76,280.57 L371.01,279.96 L371.26,279.55 L371.51,279.45 L371.76,279.62 L372.01,279.98 L372.26,280.46 L372.51,281.01 L372.76,281.55 L373.01,282.04 L373.26,282.45 L373.51,282.88 L373.76,283.33 L374.01,283.77 L374.26,284.20 L374.51,284.59 L374.76,284.94 L375.01,285.23 L375.26,285.44 L375.51,285.60 L375.76,285.75 L376.01,285.90 L376.26,286.03 L376.51,286.15 L376.76,286.26 L377.01,286.36 L377.26,286.43 L377.51,286.49 L377.76,286.53 L378.01,286.54 L378.26,286.53 L378.51,286.53 L378.76,286.51 L379.01,286.50 L379.26,286.48 L379.51,286.46 L379.76,286.43 L380.01,286.41 L380.26,286.38 L380.51,286.35 L380.76,286.32 L381.01,286.29 L381.26,286.27 L381.51,286.24 L381.76,286.21 L382.01,286.19 L382.26,286.17 L382.51,286.15 L382.76,286.12 L383.01,286.10 L383.26,286.08 L383.51,286.05 L383.76,286.03 L384.01,286.01 L384.26,285.98 L384.51,285.96 L384.76,285.93 L385.01,285.90 L385.26,285.88 L385.51,285.85 L385.76,285.82 L386.01,285.79 L386.26,285.76 L386.51,285.73 L386.76,285.70 L387.01,285.67 L387.26,285.64 L387.51,285.60 L387.76,285.57 L388.01,285.53 L388.26,285.50 L388.51,285.46 L388.76,285.42 L389.01,285.38 L389.26,285.34 L389.51,285.30 L389.76,285.26 L390.01,285.21 L390.26,285.17 L390.51,285.12 L390.76,285.08 L391.01,285.03 L391.26,284.98 L391.51,284.93 L391.76,284.88 L392.01,284.82 L392.26,284.76 L392.51,284.71 L392.76,284.64 L393.01,284.58 L393.26,284.51 L393.51,284.44 L393.76,284.37 L394.01,284.29 L394.26,284.19 L394.51,284.07 L394.76,283.94 L395.01,283.80 L395.26,283.66 L395.51,283.51 L395.76,283.37 L396.01,283.23 L396.26,283.10 L396.51,282.99 L396.76,282.89 L397.01,282.81 L397.26,282.75 L397.51,282.72 L397.76,282.73 L398.01,282.82 L398.26,282.98 L398.51,283.18 L398.76,283.42 L399.01,283.67 L399.26,283.91 L399.51,284.14 L399.76,284.33 L400.01,284.48 L400.26,284.65 L400.51,284.82 L400.76,284.98 L401.01,285.13 L401.26,285.26 L401.51,285.36 L401.76,285.43 L402.01,285.45 L402.26,285.43 L402.51,285.40 L402.76,285.35 L403.01,285.28 L403.26,285.22 L403.51,285.15 L403.76,285.08 L404.01,285.01 L404.26,284.96 L404.51,284.92 L404.76,284.90 L405.01,284.94 L405.26,285.06 L405.51,285.23 L405.76,285.41 L406.01,285.58 L406.26,285.69 L406.51,285.72 L406.76,285.59 L407.01,285.28 L407.26,284.77 L407.51,284.02 L407.76,282.96 L408.01,281.52 L408.26,279.61 L408.51,277.14 L408.76,274.02 L409.01,270.15 L409.26,265.44 L409.51,259.81 L409.76,253.23 L410.01,245.65 L410.26,237.11 L410.51,227.66 L410.76,217.43 L411.01,206.58 L411.26,195.35 L411.51,184.00 L411.76,172.85 L412.01,162.25 L412.26,152.54 L412.51,144.08 L412.76,137.17 L413.01,132.10 L413.26,129.06 L413.51,128.18 L413.76,129.51 L414.01,132.99 L414.26,138.50 L414.51,145.83 L414.76,154.70 L415.01,164.79 L415.26,175.76 L415.51,187.25 L415.76,198.92 L416.01,210.46 L416.26,221.60 L416.51,232.10 L416.76,241.80 L417.01,250.59 L417.26,258.40 L417.51,265.21 L417.76,271.05 L418.01,275.97 L418.26,280.05 L418.51,283.37 L418.76,286.02 L419.01,288.09 L419.26,289.16 L419.51,289.26 L419.76,288.64 L420.01,287.52 L420.26,286.13 L420.51,284.68 L420.76,283.36 L421.01,282.34 L421.26,281.37 L421.51,280.41 L421.76,279.47 L422.01,278.56 L422.26,277.68 L422.51,276.84 L422.76,276.05 L423.01,275.31 L423.26,274.61 L423.51,273.87 L423.76,273.12 L424.01,272.38 L424.26,271.66 L424.51,271.00 L424.76,270.40 L425.01,269.89 L425.26,269.48 L425.51,269.21 L425.76,269.09 L426.01,269.24 L426.26,269.82 L426.51,270.74 L426.76,271.86 L427.01,273.07 L427.26,274.26 L427.51,275.32 L427.76,276.51 L428.01,277.86 L428.26,279.23 L428.51,280.48 L428.76,281.48 L429.01,282.09 L429.26,282.31 L429.51,282.48 L429.76,282.64 L430.01,282.78 L430.26,282.91 L430.51,283.01 L430.76,283.10 L431.01,283.17 L431.26,283.22 L431.51,283.25 L431.76,283.26 L432.01,283.26 L432.26,283.26 L432.51,283.26 L432.76,283.26 L433.01,283.26 L433.26,283.26 L433.51,283.26 L433.76,283.26 L434.01,283.26 L434.26,283.26 L434.51,283.26 L434.76,283.26 L435.01,283.26 L435.26,283.27 L435.51,283.29 L435.76,283.33 L436.01,283.39 L436.26,283.45 L436.51,283.53 L436.76,283.62 L437.01,283.71 L437.26,283.81 L437.51,283.96 L437.76,284.21 L438.01,284.53 L438.26,284.87 L438.51,285.22 L438.76,285.54 L439.01,285.79 L439.26,285.95 L439.51,285.99 L439.76,285.88 L440.01,285.64 L440.26,285.32 L440.51,284.93 L440.76,284.51 L441.01,284.10 L441.26,283.71 L441.51,283.39 L441.76,283.14 L442.01,282.89 L442.26,282.63 L442.51,282.39 L442.76,282.16 L443.01,281.95 L443.26,281.79 L443.51,281.68 L443.76,281.63 L444.01,281.67 L444.26,281.83 L444.51,282.09 L444.76,282.43 L445.01,282.81 L445.26,283.22 L445.51,283.64 L445.76,284.03 L446.01,284.38 L446.26,284.76 L446.51,285.19 L446.76,285.63 L447.01,286.03 L447.26,286.34 L447.51,286.51 L447.76,286.47 L448.01,286.08 L448.26,285.45 L448.51,284.70 L448.76,284.00 L449.01,283.47 L449.26,283.27 L449.51,283.26 L449.76,283.26 L450.01,283.26 L450.26,283.26 L450.51,283.26 L450.76,283.26 L451.01,283.26 L451.26,283.26 L451.51,283.26 L451.76,283.26 L452.01,283.26 L452.26,283.25 L452.51,283.21 L452.76,283.16 L453.01,283.09 L453.26,283.02 L453.51,282.95 L453.76,282.87 L454.01,282.81 L454.26,282.76 L454.51,282.73 L454.76,282.72 L455.01,282.73 L455.26,282.76 L455.51,282.80 L455.76,282.85 L456.01,282.91 L456.26,282.97 L456.51,283.03 L456.76,283.09 L457.01,283.15 L457.26,283.20 L457.51,283.23 L457.76,283.26 L458.01,283.26 L458.26,283.26 L458.51,283.26 L458.76,283.26 L459.01,283.26 L459.26,283.26 L459.51,283.26 L459.76,283.26 L460.01,283.26 L460.26,283.26 L460.51,283.26 L460.76,283.26 L461.01,283.26 L461.26,283.26 L461.51,283.34 L461.76,283.52 L462.01,283.78 L462.26,284.07 L462.51,284.37 L462.76,284.63 L463.01,284.82 L463.26,284.90 L463.51,284.90 L463.76,284.90 L464.01,284.90 L464.26,284.90 L464.51,284.90 L464.76,284.96 L465.01,285.13 L465.26,285.39 L465.51,285.68 L465.76,285.98 L466.01,286.25 L466.26,286.45 L466.51,286.53 L466.76,286.54 L467.01,286.54 L467.26,286.54 L467.51,286.54 L467.76,286.54 L468.01,286.54 L468.26,286.54 L468.51,286.54 L468.76,286.54 L469.01,286.46 L469.26,286.28 L469.51,286.02 L469.76,285.71 L470.01,285.37 L470.26,285.03 L470.51,284.73 L470.76,284.47 L471.01,284.29 L471.26,284.12 L471.51,283.94 L471.76,283.78 L472.01,283.62 L472.26,283.49 L472.51,283.38 L472.76,283.30 L473.01,283.27 L473.26,283.26 L473.51,283.26 L473.76,283.26 L474.01,283.26 L474.26,283.26 L474.51,283.26 L474.76,283.26 L475.01,283.26 L475.26,283.26 L475.51,283.32 L475.76,283.48 L476.01,283.72 L476.26,284.02 L476.51,284.35 L476.76,284.68 L477.01,285.00 L477.26,285.28 L477.51,285.49 L477.76,285.67 L478.01,285.85 L478.26,286.02 L478.51,286.19 L478.76,286.35 L479.01,286.50 L479.26,286.64 L479.51,286.77 L479.76,286.89 L480.01,287.01 L480.26,287.12 L480.51,287.22 L480.76,287.33 L481.01,287.44 L481.26,287.55 L481.51,287.65 L481.76,287.74 L482.01,287.82 L482.26,287.88 L482.51,287.93 L482.76,287.95 L483.01,287.95 L483.26,287.94 L483.51,287.92 L483.76,287.88 L484.01,287.84 L484.26,287.78 L484.51,287.71 L484.76,287.64 L485.01,287.56 L485.26,287.47 L485.51,287.37 L485.76,287.27 L486.01,287.16 L486.26,287.04 L486.51,286.88 L486.76,286.68 L487.01,286.42 L487.26,286.12 L487.51,285.78 L487.76,285.40 L488.01,284.99 L488.26,284.54 L488.51,284.00 L488.76,283.18 L489.01,282.16 L489.26,281.06 L489.51,279.98 L489.76,279.03 L490.01,278.32 L490.26,277.74 L490.51,277.16 L490.76,276.63 L491.01,276.17 L491.26,275.84 L491.51,275.65 L491.76,275.64 L492.01,275.71 L492.26,275.84 L492.51,276.02 L492.76,276.23 L493.01,276.47 L493.26,276.72 L493.51,277.05 L493.76,277.51 L494.01,278.07 L494.26,278.66 L494.51,279.24 L494.76,279.76 L495.01,280.17 L495.26,280.61 L495.51,280.94 L495.76,280.96 L496.01,280.48 L496.26,279.56 L496.51,278.33 L496.76,276.70 L497.01,274.63 L497.26,272.03 L497.51,268.84 L497.76,265.00 L498.01,260.46 L498.26,255.20 L498.51,249.20 L498.76,242.49 L499.01,235.14 L499.26,227.22 L499.51,218.89 L499.76,210.31 L500.01,201.69 L500.26,193.26 L500.51,185.27 L500.76,177.98 L501.01,171.63 L501.26,166.46 L501.51,162.64 L501.76,160.34 L502.01,159.64 L502.26,160.57 L502.51,163.10 L502.76,167.14 L503.01,172.53 L503.26,179.08 L503.51,186.56 L503.76,194.73 L504.01,203.33 L504.26,212.12 L504.51,220.85 L504.76,229.32 L505.01,237.37 L505.26,244.86 L505.51,251.70 L505.76,257.82 L506.01,263.22 L506.26,267.89 L506.51,271.87 L506.76,275.20 L507.01,277.94 L507.26,280.17 L507.51,281.96 L507.76,283.36 L508.01,284.45 L508.26,285.23 L508.51,285.74 L508.76,286.07 L509.01,286.26 L509.26,286.38 L509.51,286.48 L509.76,286.63 L510.01,286.92 L510.26,287.25 L510.51,287.52 L510.76,287.63 L511.01,287.58 L511.26,287.42 L511.51,287.18 L511.76,286.88 L512.01,286.53 L512.26,286.15 L512.51,285.69 L512.76,284.92 L513.01,283.96 L513.26,282.90 L513.51,281.90 L513.76,281.06 L514.01,280.52 L514.26,280.15 L514.51,279.80 L514.76,279.52 L515.01,279.32 L515.26,279.23 L515.51,279.28 L515.76,279.46 L516.01,279.74 L516.26,280.09 L516.51,280.48 L516.76,280.89 L517.01,281.28 L517.26,281.62 L517.51,281.94 L517.76,282.28 L518.01,282.62 L518.26,282.96 L518.51,283.30 L518.76,283.62 L519.01,283.92 L519.26,284.18 L519.51,284.41 L519.76,284.63 L520.01,284.86 L520.26,285.07 L520.51,285.25 L520.76,285.38 L521.01,285.44 L521.26,285.42 L521.51,285.30 L521.76,285.11 L522.01,284.88 L522.26,284.66 L522.51,284.47 L522.76,284.34 L523.01,284.24 L523.26,284.14 L523.51,284.05 L523.76,283.96 L524.01,283.88 L524.26,283.80 L524.51,283.74 L524.76,283.68 L525.01,283.64 L525.26,283.61 L525.51,283.59" stroke="#1263e8"/>
</g>
<text x="56.00" y="352.00" font-size="18.0" text-anchor="middle" >1200</text>
<text x="162.55" y="352.00" font-size="18.0" text-anchor="middle" >1400</text>
<text x="269.60" y="352.00" font-size="18.0" text-anchor="middle" >1600</text>
<text x="312.10" y="352.00" font-size="18.0" text-anchor="middle" >1200</text>
<text x="419.05" y="352.00" font-size="18.0" text-anchor="middle" >1400</text>
<text x="526.00" y="352.00" font-size="18.0" text-anchor="middle" >1600</text>
<text x="49.20" y="317.90" font-size="18.0" text-anchor="end" >0</text>
<text x="49.20" y="189.90" font-size="18.0" text-anchor="end" >1</text>
<text x="49.20" y="61.90" font-size="18.0" text-anchor="end" >2</text>
<text x="304.60" y="293.65" font-size="18.0" text-anchor="end" >0</text>
<text x="304.60" y="207.45" font-size="18.0" text-anchor="end" >1</text>
<text x="304.60" y="121.25" font-size="18.0" text-anchor="end" >2</text>
<text x="304.60" y="35.05" font-size="18.0" text-anchor="end" >3</text>
<text x="45.2" y="24.1" font-size="16.6">×<tspan font-size="14.8" dx="-0.5" dy="-1.0">10</tspan><tspan font-size="9.6" dy="-6.5" dx="0.4">5</tspan></text>
<text x="296.7" y="20.1" font-size="16.6">×<tspan font-size="14.8" dx="-0.5" dy="-1.0">10</tspan><tspan font-size="9.6" dy="-7.8" dx="0.4">3</tspan></text>
<text transform="translate(79.6,377.1) scale(1.045,1)" font-size="20.7">Raman shift (cm<tspan font-size="11.2" dy="-9.6" dx="0.8">−</tspan><tspan font-size="12.9" dy="2.6" dx="0.5">1</tspan><tspan dy="7.0" dx="1.0">)</tspan></text>
<text transform="translate(336.0,377.1) scale(1.045,1)" font-size="20.7">Raman shift (cm<tspan font-size="11.2" dy="-9.6" dx="0.8">−</tspan><tspan font-size="12.9" dy="2.6" dx="0.5">1</tspan><tspan dy="7.0" dx="1.0">)</tspan></text>
<text transform="translate(26.1,173.6) rotate(-90)" font-size="21.9" text-anchor="middle">Intensity (a.u.)</text>
<text x="61.80" y="46.80" font-size="15.5" text-anchor="start" >(a)</text>
<text x="318.60" y="46.80" font-size="15.5" text-anchor="start" >(b)</text>
<text x="94.40" y="46.80" font-size="15.5" text-anchor="start" >Concentration (ppm)</text>
<path d="M94.3,60.60H128.9" stroke="#646464" stroke-width="2.3" stroke-linecap="round"/>
<text x="132.40" y="65.60" font-size="15.5" text-anchor="start" >Sample 1</text>
<path d="M94.3,79.57H128.9" stroke="#f83030" stroke-width="2.3" stroke-linecap="round"/>
<text x="132.40" y="84.57" font-size="15.5" text-anchor="start" >Sample 2</text>
<path d="M94.3,98.54H128.9" stroke="#1263e8" stroke-width="2.3" stroke-linecap="round"/>
<text x="132.40" y="103.54" font-size="15.5" text-anchor="start" >Sample 3</text>
<path d="M94.3,117.51H128.9" stroke="#08a558" stroke-width="2.3" stroke-linecap="round"/>
<text x="132.40" y="122.51" font-size="15.5" text-anchor="start" >Sample 4</text>
<path d="M94.3,136.48H128.9" stroke="#bc62e2" stroke-width="2.3" stroke-linecap="round"/>
<text x="132.40" y="141.48" font-size="15.5" text-anchor="start" >Sample 5</text>
<text x="359.40" y="46.80" font-size="15.5" text-anchor="start" >Concentration (ppm)</text>
<path d="M359.3,60.60H393.7" stroke="#646464" stroke-width="2.3" stroke-linecap="round"/>
<text x="397.60" y="65.60" font-size="15.5" text-anchor="start" >Sample 1</text>
<path d="M359.3,79.57H393.7" stroke="#f83030" stroke-width="2.3" stroke-linecap="round"/>
<text x="397.60" y="84.57" font-size="15.5" text-anchor="start" >Sample 2</text>
<path d="M359.3,98.54H393.7" stroke="#1263e8" stroke-width="2.3" stroke-linecap="round"/>
<text x="397.60" y="103.54" font-size="15.5" text-anchor="start" >Sample 3</text>
<text transform="translate(105.6,177.6) rotate(90) scale(1,1.11)" font-size="17.8">CO<tspan font-size="12.5" dy="3.6">2</tspan><tspan dy="-3.6" dx="1.3"> 1287 cm</tspan><tspan font-size="10.6" dy="-7.3" dx="1.3">−</tspan><tspan font-size="11.2" dx="0.7" dy="0.7">1</tspan></text>
<text transform="translate(161.6,160.6) rotate(90) scale(1,1.11)" font-size="17.8">CO<tspan font-size="12.5" dy="3.6">2</tspan><tspan dy="-3.6" dx="1.3"> 1389 cm</tspan><tspan font-size="10.6" dy="-7.3" dx="1.3">−</tspan><tspan font-size="11.2" dx="0.7" dy="0.7">1</tspan></text>
<text transform="translate(221.0,65.4) rotate(90) scale(1,1.11)" font-size="17.8">O<tspan font-size="12.5" dy="3.6">2</tspan><tspan dy="-3.6" dx="1.3"> 1556 cm</tspan><tspan font-size="10.6" dy="-7.3" dx="1.3">−</tspan><tspan font-size="11.2" dx="0.7" dy="0.7">1</tspan></text>
<text transform="translate(330.6,151.8) rotate(90) scale(1,1.11)" font-size="17.8">CO<tspan font-size="12.5" dy="3.6">2</tspan><tspan dy="-3.6" dx="1.3"> 1287 cm</tspan><tspan font-size="10.6" dy="-7.3" dx="1.3">−</tspan><tspan font-size="11.2" dx="0.7" dy="0.7">1</tspan></text>
<text transform="translate(421.4,135.7) rotate(90) scale(1,1.11)" font-size="17.8">CO<tspan font-size="12.5" dy="3.6">2</tspan><tspan dy="-3.6" dx="1.3"> 1389 cm</tspan><tspan font-size="10.6" dy="-7.3" dx="1.3">−</tspan><tspan font-size="11.2" dx="0.7" dy="0.7">1</tspan></text>
<text transform="translate(471.0,101.9) rotate(90) scale(1,1.11)" font-size="17.8">O<tspan font-size="12.5" dy="3.6">2</tspan><tspan dy="-3.6" dx="1.3"> 1556 cm</tspan><tspan font-size="10.6" dy="-7.3" dx="1.3">−</tspan><tspan font-size="11.2" dx="0.7" dy="0.7">1</tspan></text>
</svg>
</body></html>
